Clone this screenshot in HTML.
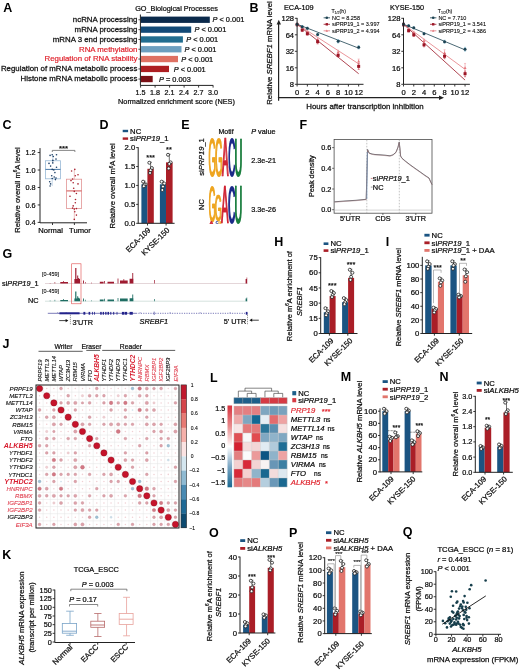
<!DOCTYPE html>
<html><head><meta charset="utf-8"><title>Figure</title>
<style>
html,body{margin:0;padding:0;background:#fff;}
body{width:520px;height:670px;overflow:hidden;}
svg{display:block;font-family:"Liberation Sans",Arial,sans-serif;}
</style></head>
<body>
<svg width="520" height="670" viewBox="0 0 520 670">
<rect x="0" y="0" width="520" height="670" fill="#fff"/>
<text x="3.29" y="11.60" font-size="12.5" fill="#000" font-weight="bold">A</text>
<text x="176.50" y="10.60" font-size="7.3" text-anchor="middle" stroke="#1c1c1c" stroke-width="0.234">GO_Biological Processes</text>
<rect x="140.60" y="16.60" width="69.20" height="6.30" fill="#0b2a4b"/>
<text x="137.40" y="22.05" font-size="7.85" text-anchor="end" stroke="#1c1c1c" stroke-width="0.251">ncRNA processing</text>
<line x1="138.40" y1="19.75" x2="140.40" y2="19.75" stroke="#222" stroke-width="0.8"/>
<text x="212.50" y="22.35" font-size="7.4" stroke="#1c1c1c" stroke-width="0.237"><tspan font-style="italic">P</tspan> &lt; 0.001</text>
<rect x="140.60" y="26.50" width="50.60" height="6.30" fill="#124a77"/>
<text x="137.40" y="31.95" font-size="7.85" text-anchor="end" stroke="#1c1c1c" stroke-width="0.251">mRNA processing</text>
<line x1="138.40" y1="29.65" x2="140.40" y2="29.65" stroke="#222" stroke-width="0.8"/>
<text x="194.45" y="32.25" font-size="7.4" stroke="#1c1c1c" stroke-width="0.237"><tspan font-style="italic">P</tspan> &lt; 0.001</text>
<rect x="140.60" y="36.30" width="42.30" height="6.30" fill="#216d8f"/>
<text x="137.40" y="41.75" font-size="7.85" text-anchor="end" stroke="#1c1c1c" stroke-width="0.251">mRNA 3 end processing</text>
<line x1="138.40" y1="39.45" x2="140.40" y2="39.45" stroke="#222" stroke-width="0.8"/>
<text x="186.25" y="42.05" font-size="7.4" stroke="#1c1c1c" stroke-width="0.237"><tspan font-style="italic">P</tspan> &lt; 0.001</text>
<rect x="140.60" y="46.10" width="40.90" height="6.30" fill="#6c9fbf"/>
<text x="137.40" y="51.55" font-size="7.85" text-anchor="end" fill="#e0242e" stroke="#e0242e" stroke-width="0.204">RNA methylation</text>
<line x1="138.40" y1="49.25" x2="140.40" y2="49.25" stroke="#222" stroke-width="0.8"/>
<text x="184.50" y="51.85" font-size="7.4" stroke="#1c1c1c" stroke-width="0.237"><tspan font-style="italic">P</tspan> &lt; 0.001</text>
<rect x="140.60" y="55.90" width="37.40" height="6.30" fill="#df7163"/>
<text x="137.40" y="61.35" font-size="7.85" text-anchor="end" fill="#e0242e" stroke="#e0242e" stroke-width="0.204">Regulation of RNA stability</text>
<line x1="138.40" y1="59.05" x2="140.40" y2="59.05" stroke="#222" stroke-width="0.8"/>
<text x="181.25" y="61.65" font-size="7.4" stroke="#1c1c1c" stroke-width="0.237"><tspan font-style="italic">P</tspan> &lt; 0.001</text>
<rect x="140.60" y="65.80" width="28.40" height="6.30" fill="#ad1e22"/>
<text x="137.40" y="71.25" font-size="7.85" text-anchor="end" stroke="#1c1c1c" stroke-width="0.251">Regulation of mRNA metabolic process</text>
<line x1="138.40" y1="68.95" x2="140.40" y2="68.95" stroke="#222" stroke-width="0.8"/>
<text x="173.75" y="71.55" font-size="7.4" stroke="#1c1c1c" stroke-width="0.237"><tspan font-style="italic">P</tspan> &lt; 0.001</text>
<rect x="140.60" y="75.90" width="12.10" height="6.30" fill="#7a1016"/>
<text x="137.40" y="81.35" font-size="7.85" text-anchor="end" stroke="#1c1c1c" stroke-width="0.251">Histone mRNA metabolic process</text>
<line x1="138.40" y1="79.05" x2="140.40" y2="79.05" stroke="#222" stroke-width="0.8"/>
<text x="158.95" y="81.65" font-size="7.4" stroke="#1c1c1c" stroke-width="0.237"><tspan font-style="italic">P</tspan> = 0.003</text>
<line x1="140.40" y1="14.50" x2="140.40" y2="85.40" stroke="#222" stroke-width="1.0"/>
<line x1="140.40" y1="85.40" x2="213.20" y2="85.40" stroke="#222" stroke-width="1.0"/>
<line x1="140.60" y1="85.40" x2="140.60" y2="87.60" stroke="#222" stroke-width="0.9"/>
<text x="140.60" y="95.00" font-size="7.2" text-anchor="middle" stroke="#1c1c1c" stroke-width="0.230">1.5</text>
<line x1="155.10" y1="85.40" x2="155.10" y2="87.60" stroke="#222" stroke-width="0.9"/>
<text x="155.10" y="95.00" font-size="7.2" text-anchor="middle" stroke="#1c1c1c" stroke-width="0.230">1.8</text>
<line x1="169.60" y1="85.40" x2="169.60" y2="87.60" stroke="#222" stroke-width="0.9"/>
<text x="169.60" y="95.00" font-size="7.2" text-anchor="middle" stroke="#1c1c1c" stroke-width="0.230">2.1</text>
<line x1="184.10" y1="85.40" x2="184.10" y2="87.60" stroke="#222" stroke-width="0.9"/>
<text x="184.10" y="95.00" font-size="7.2" text-anchor="middle" stroke="#1c1c1c" stroke-width="0.230">2.4</text>
<line x1="198.60" y1="85.40" x2="198.60" y2="87.60" stroke="#222" stroke-width="0.9"/>
<text x="198.60" y="95.00" font-size="7.2" text-anchor="middle" stroke="#1c1c1c" stroke-width="0.230">2.7</text>
<line x1="213.10" y1="85.40" x2="213.10" y2="87.60" stroke="#222" stroke-width="0.9"/>
<text x="213.10" y="95.00" font-size="7.2" text-anchor="middle" stroke="#1c1c1c" stroke-width="0.230">3.0</text>
<text x="176.50" y="104.00" font-size="7.3" text-anchor="middle" stroke="#1c1c1c" stroke-width="0.234">Normalized enrichment score (NES)</text>
<text x="249.46" y="11.80" font-size="12.5" fill="#000" font-weight="bold">B</text>
<text x="284.00" y="9.80" font-size="7.3" stroke="#1c1c1c" stroke-width="0.234">ECA-109</text>
<line x1="297.10" y1="24.18" x2="358.66" y2="63.82" stroke="#e47a80" stroke-width="0.8"/>
<line x1="297.10" y1="24.18" x2="358.66" y2="73.71" stroke="#9c1626" stroke-width="0.8"/>
<line x1="297.10" y1="24.18" x2="358.66" y2="48.15" stroke="#1d4252" stroke-width="0.8"/>
<line x1="297.10" y1="22.79" x2="297.10" y2="25.65" stroke="#eea0a8" stroke-width="0.7"/>
<line x1="296.10" y1="22.79" x2="298.10" y2="22.79" stroke="#eea0a8" stroke-width="0.6"/>
<line x1="296.10" y1="25.65" x2="298.10" y2="25.65" stroke="#eea0a8" stroke-width="0.6"/>
<path d="M295.60,25.38 L297.10,22.68 L298.60,25.38 Z" fill="#e47a80"/>
<line x1="302.23" y1="27.45" x2="302.23" y2="29.83" stroke="#eea0a8" stroke-width="0.7"/>
<line x1="301.23" y1="27.45" x2="303.23" y2="27.45" stroke="#eea0a8" stroke-width="0.6"/>
<line x1="301.23" y1="29.83" x2="303.23" y2="29.83" stroke="#eea0a8" stroke-width="0.6"/>
<path d="M300.73,29.81 L302.23,27.11 L303.73,29.81 Z" fill="#e47a80"/>
<line x1="307.36" y1="30.61" x2="307.36" y2="33.47" stroke="#eea0a8" stroke-width="0.7"/>
<line x1="306.36" y1="30.61" x2="308.36" y2="30.61" stroke="#eea0a8" stroke-width="0.6"/>
<line x1="306.36" y1="33.47" x2="308.36" y2="33.47" stroke="#eea0a8" stroke-width="0.6"/>
<path d="M305.86,33.20 L307.36,30.50 L308.86,33.20 Z" fill="#e47a80"/>
<line x1="317.62" y1="37.91" x2="317.62" y2="41.73" stroke="#eea0a8" stroke-width="0.7"/>
<line x1="316.62" y1="37.91" x2="318.62" y2="37.91" stroke="#eea0a8" stroke-width="0.6"/>
<line x1="316.62" y1="41.73" x2="318.62" y2="41.73" stroke="#eea0a8" stroke-width="0.6"/>
<path d="M316.12,40.94 L317.62,38.24 L319.12,40.94 Z" fill="#e47a80"/>
<line x1="338.14" y1="50.22" x2="338.14" y2="54.04" stroke="#eea0a8" stroke-width="0.7"/>
<line x1="337.14" y1="50.22" x2="339.14" y2="50.22" stroke="#eea0a8" stroke-width="0.6"/>
<line x1="337.14" y1="54.04" x2="339.14" y2="54.04" stroke="#eea0a8" stroke-width="0.6"/>
<path d="M336.64,53.26 L338.14,50.56 L339.64,53.26 Z" fill="#e47a80"/>
<line x1="358.66" y1="59.06" x2="358.66" y2="63.83" stroke="#eea0a8" stroke-width="0.7"/>
<line x1="357.66" y1="59.06" x2="359.66" y2="59.06" stroke="#eea0a8" stroke-width="0.6"/>
<line x1="357.66" y1="63.83" x2="359.66" y2="63.83" stroke="#eea0a8" stroke-width="0.6"/>
<path d="M357.16,62.53 L358.66,59.83 L360.16,62.53 Z" fill="#e47a80"/>
<line x1="297.10" y1="23.27" x2="297.10" y2="26.13" stroke="#c84858" stroke-width="0.7"/>
<line x1="296.10" y1="23.27" x2="298.10" y2="23.27" stroke="#c84858" stroke-width="0.6"/>
<line x1="296.10" y1="26.13" x2="298.10" y2="26.13" stroke="#c84858" stroke-width="0.6"/>
<rect x="295.60" y="23.16" width="3.00" height="3.00" fill="#9c1626"/>
<line x1="302.23" y1="28.70" x2="302.23" y2="31.56" stroke="#c84858" stroke-width="0.7"/>
<line x1="301.23" y1="28.70" x2="303.23" y2="28.70" stroke="#c84858" stroke-width="0.6"/>
<line x1="301.23" y1="31.56" x2="303.23" y2="31.56" stroke="#c84858" stroke-width="0.6"/>
<rect x="300.73" y="28.59" width="3.00" height="3.00" fill="#9c1626"/>
<line x1="307.36" y1="32.32" x2="307.36" y2="35.18" stroke="#c84858" stroke-width="0.7"/>
<line x1="306.36" y1="32.32" x2="308.36" y2="32.32" stroke="#c84858" stroke-width="0.6"/>
<line x1="306.36" y1="35.18" x2="308.36" y2="35.18" stroke="#c84858" stroke-width="0.6"/>
<rect x="305.86" y="32.21" width="3.00" height="3.00" fill="#9c1626"/>
<line x1="317.62" y1="39.60" x2="317.62" y2="43.89" stroke="#c84858" stroke-width="0.7"/>
<line x1="316.62" y1="39.60" x2="318.62" y2="39.60" stroke="#c84858" stroke-width="0.6"/>
<line x1="316.62" y1="43.89" x2="318.62" y2="43.89" stroke="#c84858" stroke-width="0.6"/>
<rect x="316.12" y="40.15" width="3.00" height="3.00" fill="#9c1626"/>
<line x1="338.14" y1="53.96" x2="338.14" y2="56.82" stroke="#c84858" stroke-width="0.7"/>
<line x1="337.14" y1="53.96" x2="339.14" y2="53.96" stroke="#c84858" stroke-width="0.6"/>
<line x1="337.14" y1="56.82" x2="339.14" y2="56.82" stroke="#c84858" stroke-width="0.6"/>
<rect x="336.64" y="53.84" width="3.00" height="3.00" fill="#9c1626"/>
<line x1="358.66" y1="63.66" x2="358.66" y2="69.40" stroke="#c84858" stroke-width="0.7"/>
<line x1="357.66" y1="63.66" x2="359.66" y2="63.66" stroke="#c84858" stroke-width="0.6"/>
<line x1="357.66" y1="69.40" x2="359.66" y2="69.40" stroke="#c84858" stroke-width="0.6"/>
<rect x="357.16" y="64.86" width="3.00" height="3.00" fill="#9c1626"/>
<line x1="297.10" y1="23.01" x2="297.10" y2="25.40" stroke="#7ab8d0" stroke-width="0.7"/>
<line x1="296.10" y1="23.01" x2="298.10" y2="23.01" stroke="#7ab8d0" stroke-width="0.6"/>
<line x1="296.10" y1="25.40" x2="298.10" y2="25.40" stroke="#7ab8d0" stroke-width="0.6"/>
<circle cx="297.10" cy="24.18" r="1.50" fill="#1d4252"/>
<line x1="302.23" y1="25.52" x2="302.23" y2="27.91" stroke="#7ab8d0" stroke-width="0.7"/>
<line x1="301.23" y1="25.52" x2="303.23" y2="25.52" stroke="#7ab8d0" stroke-width="0.6"/>
<line x1="301.23" y1="27.91" x2="303.23" y2="27.91" stroke="#7ab8d0" stroke-width="0.6"/>
<circle cx="302.23" cy="26.68" r="1.50" fill="#1d4252"/>
<line x1="307.36" y1="27.17" x2="307.36" y2="29.55" stroke="#7ab8d0" stroke-width="0.7"/>
<line x1="306.36" y1="27.17" x2="308.36" y2="27.17" stroke="#7ab8d0" stroke-width="0.6"/>
<line x1="306.36" y1="29.55" x2="308.36" y2="29.55" stroke="#7ab8d0" stroke-width="0.6"/>
<circle cx="307.36" cy="28.33" r="1.50" fill="#1d4252"/>
<line x1="317.62" y1="33.45" x2="317.62" y2="35.84" stroke="#7ab8d0" stroke-width="0.7"/>
<line x1="316.62" y1="33.45" x2="318.62" y2="33.45" stroke="#7ab8d0" stroke-width="0.6"/>
<line x1="316.62" y1="35.84" x2="318.62" y2="35.84" stroke="#7ab8d0" stroke-width="0.6"/>
<circle cx="317.62" cy="34.61" r="1.50" fill="#1d4252"/>
<line x1="338.14" y1="39.64" x2="338.14" y2="42.98" stroke="#7ab8d0" stroke-width="0.7"/>
<line x1="337.14" y1="39.64" x2="339.14" y2="39.64" stroke="#7ab8d0" stroke-width="0.6"/>
<line x1="337.14" y1="42.98" x2="339.14" y2="42.98" stroke="#7ab8d0" stroke-width="0.6"/>
<circle cx="338.14" cy="41.25" r="1.50" fill="#1d4252"/>
<line x1="358.66" y1="45.60" x2="358.66" y2="48.94" stroke="#7ab8d0" stroke-width="0.7"/>
<line x1="357.66" y1="45.60" x2="359.66" y2="45.60" stroke="#7ab8d0" stroke-width="0.6"/>
<line x1="357.66" y1="48.94" x2="359.66" y2="48.94" stroke="#7ab8d0" stroke-width="0.6"/>
<circle cx="358.66" cy="47.21" r="1.50" fill="#1d4252"/>
<line x1="297.10" y1="84.30" x2="297.10" y2="17.90" stroke="#222" stroke-width="1.0"/>
<line x1="294.90" y1="18.30" x2="297.10" y2="18.30" stroke="#222" stroke-width="0.9"/>
<text x="294.10" y="21.00" font-size="7.6" text-anchor="end" stroke="#1c1c1c" stroke-width="0.243">128</text>
<line x1="294.90" y1="34.80" x2="297.10" y2="34.80" stroke="#222" stroke-width="0.9"/>
<text x="294.10" y="37.50" font-size="7.6" text-anchor="end" stroke="#1c1c1c" stroke-width="0.243">64</text>
<line x1="294.90" y1="51.30" x2="297.10" y2="51.30" stroke="#222" stroke-width="0.9"/>
<text x="294.10" y="54.00" font-size="7.6" text-anchor="end" stroke="#1c1c1c" stroke-width="0.243">32</text>
<line x1="294.90" y1="67.80" x2="297.10" y2="67.80" stroke="#222" stroke-width="0.9"/>
<text x="294.10" y="70.50" font-size="7.6" text-anchor="end" stroke="#1c1c1c" stroke-width="0.243">16</text>
<line x1="294.90" y1="84.30" x2="297.10" y2="84.30" stroke="#222" stroke-width="0.9"/>
<text x="294.10" y="87.00" font-size="7.6" text-anchor="end" stroke="#1c1c1c" stroke-width="0.243">8</text>
<line x1="297.10" y1="84.30" x2="363.50" y2="84.30" stroke="#222" stroke-width="1.0"/>
<line x1="297.10" y1="84.30" x2="297.10" y2="86.50" stroke="#222" stroke-width="0.9"/>
<text x="297.10" y="94.70" font-size="7.6" text-anchor="middle" stroke="#1c1c1c" stroke-width="0.243">0</text>
<line x1="307.36" y1="84.30" x2="307.36" y2="86.50" stroke="#222" stroke-width="0.9"/>
<text x="307.36" y="94.70" font-size="7.6" text-anchor="middle" stroke="#1c1c1c" stroke-width="0.243">2</text>
<line x1="317.62" y1="84.30" x2="317.62" y2="86.50" stroke="#222" stroke-width="0.9"/>
<text x="317.62" y="94.70" font-size="7.6" text-anchor="middle" stroke="#1c1c1c" stroke-width="0.243">4</text>
<line x1="327.88" y1="84.30" x2="327.88" y2="86.50" stroke="#222" stroke-width="0.9"/>
<text x="327.88" y="94.70" font-size="7.6" text-anchor="middle" stroke="#1c1c1c" stroke-width="0.243">6</text>
<line x1="338.14" y1="84.30" x2="338.14" y2="86.50" stroke="#222" stroke-width="0.9"/>
<text x="338.14" y="94.70" font-size="7.6" text-anchor="middle" stroke="#1c1c1c" stroke-width="0.243">8</text>
<line x1="348.40" y1="84.30" x2="348.40" y2="86.50" stroke="#222" stroke-width="0.9"/>
<text x="348.40" y="94.70" font-size="7.6" text-anchor="middle" stroke="#1c1c1c" stroke-width="0.243">10</text>
<line x1="358.66" y1="84.30" x2="358.66" y2="86.50" stroke="#222" stroke-width="0.9"/>
<text x="358.66" y="94.70" font-size="7.6" text-anchor="middle" stroke="#1c1c1c" stroke-width="0.243">12</text>
<text x="331.40" y="12.60" font-size="5.2" stroke="#1c1c1c" stroke-width="0.100">T<tspan font-size="3.6" dy="1">1/2</tspan><tspan dy="-1">(h)</tspan></text>
<line x1="323.60" y1="17.80" x2="330.00" y2="17.80" stroke="#1d4252" stroke-width="0.8"/>
<circle cx="326.80" cy="17.80" r="1.30" fill="#1d4252"/>
<text x="332.00" y="19.80" font-size="5.5" stroke="#1c1c1c" stroke-width="0.100">NC = 8.258</text>
<line x1="323.60" y1="24.30" x2="330.00" y2="24.30" stroke="#9c1626" stroke-width="0.8"/>
<rect x="325.60" y="23.10" width="2.40" height="2.40" fill="#9c1626"/>
<text x="332.00" y="26.30" font-size="5.5" stroke="#1c1c1c" stroke-width="0.100">siPRP19_1 = 3.997</text>
<line x1="323.60" y1="30.80" x2="330.00" y2="30.80" stroke="#e47a80" stroke-width="0.8"/>
<path d="M325.60,31.80 L326.80,29.60 L328.00,31.80 Z" fill="#e47a80"/>
<text x="332.00" y="32.80" font-size="5.5" stroke="#1c1c1c" stroke-width="0.100">siPRP19_2 = 4.994</text>
<text x="390.00" y="9.80" font-size="7.3" stroke="#1c1c1c" stroke-width="0.234">KYSE-150</text>
<line x1="403.50" y1="24.18" x2="465.06" y2="69.32" stroke="#e47a80" stroke-width="0.8"/>
<line x1="403.50" y1="24.18" x2="465.06" y2="80.09" stroke="#9c1626" stroke-width="0.8"/>
<line x1="403.50" y1="24.18" x2="465.06" y2="49.86" stroke="#1d4252" stroke-width="0.8"/>
<line x1="403.50" y1="22.79" x2="403.50" y2="25.65" stroke="#eea0a8" stroke-width="0.7"/>
<line x1="402.50" y1="22.79" x2="404.50" y2="22.79" stroke="#eea0a8" stroke-width="0.6"/>
<line x1="402.50" y1="25.65" x2="404.50" y2="25.65" stroke="#eea0a8" stroke-width="0.6"/>
<path d="M402.00,25.38 L403.50,22.68 L405.00,25.38 Z" fill="#e47a80"/>
<line x1="408.63" y1="27.74" x2="408.63" y2="30.12" stroke="#eea0a8" stroke-width="0.7"/>
<line x1="407.63" y1="27.74" x2="409.63" y2="27.74" stroke="#eea0a8" stroke-width="0.6"/>
<line x1="407.63" y1="30.12" x2="409.63" y2="30.12" stroke="#eea0a8" stroke-width="0.6"/>
<path d="M407.13,30.10 L408.63,27.40 L410.13,30.10 Z" fill="#e47a80"/>
<line x1="413.76" y1="31.28" x2="413.76" y2="34.14" stroke="#eea0a8" stroke-width="0.7"/>
<line x1="412.76" y1="31.28" x2="414.76" y2="31.28" stroke="#eea0a8" stroke-width="0.6"/>
<line x1="412.76" y1="34.14" x2="414.76" y2="34.14" stroke="#eea0a8" stroke-width="0.6"/>
<path d="M412.26,33.87 L413.76,31.17 L415.26,33.87 Z" fill="#e47a80"/>
<line x1="424.02" y1="39.07" x2="424.02" y2="42.40" stroke="#eea0a8" stroke-width="0.7"/>
<line x1="423.02" y1="39.07" x2="425.02" y2="39.07" stroke="#eea0a8" stroke-width="0.6"/>
<line x1="423.02" y1="42.40" x2="425.02" y2="42.40" stroke="#eea0a8" stroke-width="0.6"/>
<path d="M422.52,41.88 L424.02,39.18 L425.52,41.88 Z" fill="#e47a80"/>
<line x1="444.54" y1="49.72" x2="444.54" y2="56.43" stroke="#eea0a8" stroke-width="0.7"/>
<line x1="443.54" y1="49.72" x2="445.54" y2="49.72" stroke="#eea0a8" stroke-width="0.6"/>
<line x1="443.54" y1="56.43" x2="445.54" y2="56.43" stroke="#eea0a8" stroke-width="0.6"/>
<path d="M443.04,54.04 L444.54,51.34 L446.04,54.04 Z" fill="#e47a80"/>
<line x1="465.06" y1="63.46" x2="465.06" y2="73.11" stroke="#eea0a8" stroke-width="0.7"/>
<line x1="464.06" y1="63.46" x2="466.06" y2="63.46" stroke="#eea0a8" stroke-width="0.6"/>
<line x1="464.06" y1="73.11" x2="466.06" y2="73.11" stroke="#eea0a8" stroke-width="0.6"/>
<path d="M463.56,69.00 L465.06,66.30 L466.56,69.00 Z" fill="#e47a80"/>
<line x1="403.50" y1="23.05" x2="403.50" y2="26.38" stroke="#c84858" stroke-width="0.7"/>
<line x1="402.50" y1="23.05" x2="404.50" y2="23.05" stroke="#c84858" stroke-width="0.6"/>
<line x1="402.50" y1="26.38" x2="404.50" y2="26.38" stroke="#c84858" stroke-width="0.6"/>
<rect x="402.00" y="23.16" width="3.00" height="3.00" fill="#9c1626"/>
<line x1="408.63" y1="29.55" x2="408.63" y2="31.93" stroke="#c84858" stroke-width="0.7"/>
<line x1="407.63" y1="29.55" x2="409.63" y2="29.55" stroke="#c84858" stroke-width="0.6"/>
<line x1="407.63" y1="31.93" x2="409.63" y2="31.93" stroke="#c84858" stroke-width="0.6"/>
<rect x="407.13" y="29.21" width="3.00" height="3.00" fill="#9c1626"/>
<line x1="413.76" y1="33.19" x2="413.76" y2="36.53" stroke="#c84858" stroke-width="0.7"/>
<line x1="412.76" y1="33.19" x2="414.76" y2="33.19" stroke="#c84858" stroke-width="0.6"/>
<line x1="412.76" y1="36.53" x2="414.76" y2="36.53" stroke="#c84858" stroke-width="0.6"/>
<rect x="412.26" y="33.30" width="3.00" height="3.00" fill="#9c1626"/>
<line x1="424.02" y1="42.99" x2="424.02" y2="46.81" stroke="#c84858" stroke-width="0.7"/>
<line x1="423.02" y1="42.99" x2="425.02" y2="42.99" stroke="#c84858" stroke-width="0.6"/>
<line x1="423.02" y1="46.81" x2="425.02" y2="46.81" stroke="#c84858" stroke-width="0.6"/>
<rect x="422.52" y="43.33" width="3.00" height="3.00" fill="#9c1626"/>
<line x1="444.54" y1="53.97" x2="444.54" y2="58.75" stroke="#c84858" stroke-width="0.7"/>
<line x1="443.54" y1="53.97" x2="445.54" y2="53.97" stroke="#c84858" stroke-width="0.6"/>
<line x1="443.54" y1="58.75" x2="445.54" y2="58.75" stroke="#c84858" stroke-width="0.6"/>
<rect x="443.04" y="54.74" width="3.00" height="3.00" fill="#9c1626"/>
<line x1="465.06" y1="70.98" x2="465.06" y2="76.72" stroke="#c84858" stroke-width="0.7"/>
<line x1="464.06" y1="70.98" x2="466.06" y2="70.98" stroke="#c84858" stroke-width="0.6"/>
<line x1="464.06" y1="76.72" x2="466.06" y2="76.72" stroke="#c84858" stroke-width="0.6"/>
<rect x="463.56" y="72.18" width="3.00" height="3.00" fill="#9c1626"/>
<line x1="403.50" y1="22.57" x2="403.50" y2="25.90" stroke="#7ab8d0" stroke-width="0.7"/>
<line x1="402.50" y1="22.57" x2="404.50" y2="22.57" stroke="#7ab8d0" stroke-width="0.6"/>
<line x1="402.50" y1="25.90" x2="404.50" y2="25.90" stroke="#7ab8d0" stroke-width="0.6"/>
<circle cx="403.50" cy="24.18" r="1.50" fill="#1d4252"/>
<line x1="408.63" y1="24.72" x2="408.63" y2="26.62" stroke="#7ab8d0" stroke-width="0.7"/>
<line x1="407.63" y1="24.72" x2="409.63" y2="24.72" stroke="#7ab8d0" stroke-width="0.6"/>
<line x1="407.63" y1="26.62" x2="409.63" y2="26.62" stroke="#7ab8d0" stroke-width="0.6"/>
<circle cx="408.63" cy="25.65" r="1.50" fill="#1d4252"/>
<line x1="413.76" y1="26.83" x2="413.76" y2="28.74" stroke="#7ab8d0" stroke-width="0.7"/>
<line x1="412.76" y1="26.83" x2="414.76" y2="26.83" stroke="#7ab8d0" stroke-width="0.6"/>
<line x1="412.76" y1="28.74" x2="414.76" y2="28.74" stroke="#7ab8d0" stroke-width="0.6"/>
<circle cx="413.76" cy="27.77" r="1.50" fill="#1d4252"/>
<line x1="424.02" y1="32.78" x2="424.02" y2="34.68" stroke="#7ab8d0" stroke-width="0.7"/>
<line x1="423.02" y1="32.78" x2="425.02" y2="32.78" stroke="#7ab8d0" stroke-width="0.6"/>
<line x1="423.02" y1="34.68" x2="425.02" y2="34.68" stroke="#7ab8d0" stroke-width="0.6"/>
<circle cx="424.02" cy="33.71" r="1.50" fill="#1d4252"/>
<line x1="444.54" y1="40.26" x2="444.54" y2="43.12" stroke="#7ab8d0" stroke-width="0.7"/>
<line x1="443.54" y1="40.26" x2="445.54" y2="40.26" stroke="#7ab8d0" stroke-width="0.6"/>
<line x1="443.54" y1="43.12" x2="445.54" y2="43.12" stroke="#7ab8d0" stroke-width="0.6"/>
<circle cx="444.54" cy="41.65" r="1.50" fill="#1d4252"/>
<line x1="465.06" y1="47.33" x2="465.06" y2="51.15" stroke="#7ab8d0" stroke-width="0.7"/>
<line x1="464.06" y1="47.33" x2="466.06" y2="47.33" stroke="#7ab8d0" stroke-width="0.6"/>
<line x1="464.06" y1="51.15" x2="466.06" y2="51.15" stroke="#7ab8d0" stroke-width="0.6"/>
<circle cx="465.06" cy="49.17" r="1.50" fill="#1d4252"/>
<line x1="403.50" y1="84.30" x2="403.50" y2="17.90" stroke="#222" stroke-width="1.0"/>
<line x1="401.30" y1="18.30" x2="403.50" y2="18.30" stroke="#222" stroke-width="0.9"/>
<text x="400.50" y="21.00" font-size="7.6" text-anchor="end" stroke="#1c1c1c" stroke-width="0.243">128</text>
<line x1="401.30" y1="34.80" x2="403.50" y2="34.80" stroke="#222" stroke-width="0.9"/>
<text x="400.50" y="37.50" font-size="7.6" text-anchor="end" stroke="#1c1c1c" stroke-width="0.243">64</text>
<line x1="401.30" y1="51.30" x2="403.50" y2="51.30" stroke="#222" stroke-width="0.9"/>
<text x="400.50" y="54.00" font-size="7.6" text-anchor="end" stroke="#1c1c1c" stroke-width="0.243">32</text>
<line x1="401.30" y1="67.80" x2="403.50" y2="67.80" stroke="#222" stroke-width="0.9"/>
<text x="400.50" y="70.50" font-size="7.6" text-anchor="end" stroke="#1c1c1c" stroke-width="0.243">16</text>
<line x1="401.30" y1="84.30" x2="403.50" y2="84.30" stroke="#222" stroke-width="0.9"/>
<text x="400.50" y="87.00" font-size="7.6" text-anchor="end" stroke="#1c1c1c" stroke-width="0.243">8</text>
<line x1="403.50" y1="84.30" x2="469.90" y2="84.30" stroke="#222" stroke-width="1.0"/>
<line x1="403.50" y1="84.30" x2="403.50" y2="86.50" stroke="#222" stroke-width="0.9"/>
<text x="403.50" y="94.70" font-size="7.6" text-anchor="middle" stroke="#1c1c1c" stroke-width="0.243">0</text>
<line x1="413.76" y1="84.30" x2="413.76" y2="86.50" stroke="#222" stroke-width="0.9"/>
<text x="413.76" y="94.70" font-size="7.6" text-anchor="middle" stroke="#1c1c1c" stroke-width="0.243">2</text>
<line x1="424.02" y1="84.30" x2="424.02" y2="86.50" stroke="#222" stroke-width="0.9"/>
<text x="424.02" y="94.70" font-size="7.6" text-anchor="middle" stroke="#1c1c1c" stroke-width="0.243">4</text>
<line x1="434.28" y1="84.30" x2="434.28" y2="86.50" stroke="#222" stroke-width="0.9"/>
<text x="434.28" y="94.70" font-size="7.6" text-anchor="middle" stroke="#1c1c1c" stroke-width="0.243">6</text>
<line x1="444.54" y1="84.30" x2="444.54" y2="86.50" stroke="#222" stroke-width="0.9"/>
<text x="444.54" y="94.70" font-size="7.6" text-anchor="middle" stroke="#1c1c1c" stroke-width="0.243">8</text>
<line x1="454.80" y1="84.30" x2="454.80" y2="86.50" stroke="#222" stroke-width="0.9"/>
<text x="454.80" y="94.70" font-size="7.6" text-anchor="middle" stroke="#1c1c1c" stroke-width="0.243">10</text>
<line x1="465.06" y1="84.30" x2="465.06" y2="86.50" stroke="#222" stroke-width="0.9"/>
<text x="465.06" y="94.70" font-size="7.6" text-anchor="middle" stroke="#1c1c1c" stroke-width="0.243">12</text>
<text x="437.80" y="12.60" font-size="5.2" stroke="#1c1c1c" stroke-width="0.100">T<tspan font-size="3.6" dy="1">1/2</tspan><tspan dy="-1">(h)</tspan></text>
<line x1="430.00" y1="17.80" x2="436.40" y2="17.80" stroke="#1d4252" stroke-width="0.8"/>
<circle cx="433.20" cy="17.80" r="1.30" fill="#1d4252"/>
<text x="438.40" y="19.80" font-size="5.5" stroke="#1c1c1c" stroke-width="0.100">NC = 7.710</text>
<line x1="430.00" y1="24.30" x2="436.40" y2="24.30" stroke="#9c1626" stroke-width="0.8"/>
<rect x="432.00" y="23.10" width="2.40" height="2.40" fill="#9c1626"/>
<text x="438.40" y="26.30" font-size="5.5" stroke="#1c1c1c" stroke-width="0.100">siPRP19_1 = 3.541</text>
<line x1="430.00" y1="30.80" x2="436.40" y2="30.80" stroke="#e47a80" stroke-width="0.8"/>
<path d="M432.00,31.80 L433.20,29.60 L434.40,31.80 Z" fill="#e47a80"/>
<text x="438.40" y="32.80" font-size="5.5" stroke="#1c1c1c" stroke-width="0.100">siPRP19_2 = 4.386</text>
<line x1="278.60" y1="100.80" x2="278.60" y2="23.50" stroke="#222" stroke-width="1.2"/>
<path d="M276.6,24.4 L278.8,19.8 L281.0,24.4 Z" fill="#222"/>
<line x1="277.90" y1="97.70" x2="439.50" y2="97.70" stroke="#222" stroke-width="1.2"/>
<path d="M439.0,95.4 L444.0,97.7 L439.0,100.0 Z" fill="#222"/>
<text x="271.60" y="53.00" font-size="7.8" text-anchor="middle" stroke="#1c1c1c" stroke-width="0.250" transform="rotate(-90 271.60 53.00)">Relative <tspan font-style="italic">SREBF1</tspan> mRNA level</text>
<text x="365.00" y="109.00" font-size="7.9" text-anchor="middle" stroke="#1c1c1c" stroke-width="0.253">Hours after transcription inhibition</text>
<text x="2.49" y="129.18" font-size="12.5" fill="#000" font-weight="bold">C</text>
<line x1="40.00" y1="222.90" x2="40.00" y2="148.10" stroke="#222" stroke-width="1.0"/>
<line x1="37.70" y1="222.40" x2="40.00" y2="222.40" stroke="#222" stroke-width="0.9"/>
<text x="35.60" y="225.00" font-size="7.3" text-anchor="end" stroke="#1c1c1c" stroke-width="0.234">0.4</text>
<line x1="37.70" y1="204.94" x2="40.00" y2="204.94" stroke="#222" stroke-width="0.9"/>
<text x="35.60" y="207.54" font-size="7.3" text-anchor="end" stroke="#1c1c1c" stroke-width="0.234">0.6</text>
<line x1="37.70" y1="187.48" x2="40.00" y2="187.48" stroke="#222" stroke-width="0.9"/>
<text x="35.60" y="190.08" font-size="7.3" text-anchor="end" stroke="#1c1c1c" stroke-width="0.234">0.8</text>
<line x1="37.70" y1="170.02" x2="40.00" y2="170.02" stroke="#222" stroke-width="0.9"/>
<text x="35.60" y="172.62" font-size="7.3" text-anchor="end" stroke="#1c1c1c" stroke-width="0.234">1.0</text>
<line x1="37.70" y1="152.56" x2="40.00" y2="152.56" stroke="#222" stroke-width="0.9"/>
<text x="35.60" y="155.16" font-size="7.3" text-anchor="end" stroke="#1c1c1c" stroke-width="0.234">1.2</text>
<line x1="40.00" y1="222.80" x2="87.00" y2="222.80" stroke="#222" stroke-width="1.0"/>
<line x1="52.50" y1="222.80" x2="52.50" y2="225.00" stroke="#222" stroke-width="0.9"/>
<line x1="74.40" y1="222.80" x2="74.40" y2="225.00" stroke="#222" stroke-width="0.9"/>
<text x="50.60" y="233.10" font-size="7.6" text-anchor="middle" stroke="#1c1c1c" stroke-width="0.243">Normal</text>
<text x="79.90" y="233.10" font-size="7.6" text-anchor="middle" stroke="#1c1c1c" stroke-width="0.243">Tumor</text>
<text x="19.60" y="190.00" font-size="7.6" text-anchor="middle" stroke="#1c1c1c" stroke-width="0.243" transform="rotate(-90 19.60 190.00)">Relative overall m<tspan font-size="4.6" dy="-2.6">6</tspan><tspan dy="2.6">A level</tspan></text>
<line x1="52.80" y1="160.75" x2="52.80" y2="155.00" stroke="#9dbcd8" stroke-width="0.6"/>
<line x1="52.20" y1="178.80" x2="52.20" y2="186.00" stroke="#9dbcd8" stroke-width="0.6"/>
<line x1="74.30" y1="179.20" x2="74.30" y2="169.90" stroke="#e09a9a" stroke-width="0.6"/>
<line x1="74.30" y1="208.60" x2="74.30" y2="219.90" stroke="#e09a9a" stroke-width="0.6"/>
<rect x="45.40" y="160.75" width="15.10" height="18.05" fill="none" stroke="#98b9d6" stroke-width="0.8"/>
<line x1="45.40" y1="169.40" x2="60.50" y2="169.40" stroke="#4a7aa8" stroke-width="1.0"/>
<rect x="66.50" y="179.20" width="15.10" height="29.40" fill="none" stroke="#e29494" stroke-width="0.8"/>
<line x1="66.50" y1="190.90" x2="81.60" y2="190.90" stroke="#d46060" stroke-width="1.1"/>
<circle cx="50.10" cy="155.40" r="0.80" fill="#1d3f66"/>
<circle cx="52.20" cy="154.80" r="0.80" fill="#1d3f66"/>
<circle cx="53.30" cy="156.50" r="0.80" fill="#1d3f66"/>
<circle cx="56.50" cy="154.80" r="0.80" fill="#1d3f66"/>
<circle cx="56.00" cy="159.10" r="0.80" fill="#1d3f66"/>
<circle cx="52.80" cy="160.20" r="0.80" fill="#1d3f66"/>
<circle cx="49.00" cy="163.40" r="0.80" fill="#1d3f66"/>
<circle cx="52.80" cy="162.90" r="0.80" fill="#1d3f66"/>
<circle cx="50.60" cy="166.10" r="0.80" fill="#1d3f66"/>
<circle cx="56.50" cy="167.20" r="0.80" fill="#1d3f66"/>
<circle cx="52.20" cy="169.40" r="0.80" fill="#1d3f66"/>
<circle cx="53.80" cy="169.90" r="0.80" fill="#1d3f66"/>
<circle cx="54.90" cy="172.60" r="0.80" fill="#1d3f66"/>
<circle cx="51.70" cy="175.80" r="0.80" fill="#1d3f66"/>
<circle cx="56.00" cy="178.00" r="0.80" fill="#1d3f66"/>
<circle cx="55.40" cy="179.60" r="0.80" fill="#1d3f66"/>
<circle cx="52.20" cy="178.50" r="0.80" fill="#1d3f66"/>
<circle cx="49.70" cy="181.70" r="0.80" fill="#1d3f66"/>
<circle cx="50.60" cy="183.90" r="0.80" fill="#1d3f66"/>
<circle cx="50.10" cy="186.00" r="0.80" fill="#1d3f66"/>
<circle cx="52.80" cy="160.80" r="0.80" fill="#1d3f66"/>
<circle cx="54.20" cy="177.00" r="0.80" fill="#1d3f66"/>
<circle cx="71.60" cy="171.00" r="0.80" fill="#a8202e"/>
<circle cx="74.80" cy="169.40" r="0.80" fill="#a8202e"/>
<circle cx="75.30" cy="175.80" r="0.80" fill="#a8202e"/>
<circle cx="78.00" cy="174.70" r="0.80" fill="#a8202e"/>
<circle cx="72.60" cy="179.00" r="0.80" fill="#a8202e"/>
<circle cx="71.00" cy="180.60" r="0.80" fill="#a8202e"/>
<circle cx="73.20" cy="182.80" r="0.80" fill="#a8202e"/>
<circle cx="78.00" cy="183.90" r="0.80" fill="#a8202e"/>
<circle cx="73.70" cy="188.20" r="0.80" fill="#a8202e"/>
<circle cx="74.30" cy="191.40" r="0.80" fill="#a8202e"/>
<circle cx="70.00" cy="196.20" r="0.80" fill="#a8202e"/>
<circle cx="76.40" cy="193.50" r="0.80" fill="#a8202e"/>
<circle cx="75.30" cy="202.70" r="0.80" fill="#a8202e"/>
<circle cx="72.60" cy="208.10" r="0.80" fill="#a8202e"/>
<circle cx="74.30" cy="209.10" r="0.80" fill="#a8202e"/>
<circle cx="76.40" cy="208.60" r="0.80" fill="#a8202e"/>
<circle cx="74.80" cy="211.80" r="0.80" fill="#a8202e"/>
<circle cx="76.40" cy="215.10" r="0.80" fill="#a8202e"/>
<circle cx="74.30" cy="219.40" r="0.80" fill="#a8202e"/>
<circle cx="73.20" cy="205.90" r="0.80" fill="#a8202e"/>
<circle cx="75.50" cy="199.50" r="0.80" fill="#a8202e"/>
<line x1="52.30" y1="150.40" x2="74.90" y2="150.40" stroke="#555" stroke-width="0.7"/>
<line x1="52.30" y1="150.40" x2="52.30" y2="152.00" stroke="#555" stroke-width="0.7"/>
<line x1="74.90" y1="150.40" x2="74.90" y2="152.00" stroke="#555" stroke-width="0.7"/>
<text x="63.60" y="151.00" font-size="7.819999999999999" text-anchor="middle" stroke="#1c1c1c" stroke-width="0.250">***</text>
<text x="99.46" y="128.90" font-size="12.5" fill="#000" font-weight="bold">D</text>
<rect x="122.70" y="129.80" width="5.40" height="2.40" fill="#1b5482"/>
<text x="130.10" y="133.77" font-size="7.7" stroke="#1c1c1c" stroke-width="0.246">NC</text>
<rect x="122.70" y="137.40" width="5.40" height="2.40" fill="#aa1e27"/>
<text x="130.10" y="141.37" font-size="7.7" stroke="#1c1c1c" stroke-width="0.246">si<tspan font-style="italic">PRP19</tspan>_1</text>
<rect x="141.40" y="184.31" width="6.00" height="38.99" fill="#1b5482"/>
<rect x="147.40" y="168.80" width="6.40" height="54.50" fill="#aa1e27"/>
<rect x="159.90" y="184.31" width="6.10" height="38.99" fill="#1b5482"/>
<rect x="166.00" y="162.36" width="6.60" height="60.94" fill="#aa1e27"/>
<line x1="144.40" y1="184.31" x2="144.40" y2="181.16" stroke="#111" stroke-width="0.6"/>
<line x1="143.20" y1="181.16" x2="145.60" y2="181.16" stroke="#111" stroke-width="0.6"/>
<circle cx="143.10" cy="181.66" r="1.50" fill="#fff" stroke="#151515" stroke-width="0.75"/>
<circle cx="145.70" cy="184.31" r="1.50" fill="#fff" stroke="#151515" stroke-width="0.75"/>
<circle cx="144.40" cy="184.69" r="1.50" fill="#fff" stroke="#151515" stroke-width="0.75"/>
<circle cx="143.80" cy="186.21" r="1.50" fill="#fff" stroke="#151515" stroke-width="0.75"/>
<line x1="150.60" y1="168.80" x2="150.60" y2="162.24" stroke="#111" stroke-width="0.6"/>
<line x1="149.40" y1="162.24" x2="151.80" y2="162.24" stroke="#111" stroke-width="0.6"/>
<circle cx="149.30" cy="162.74" r="1.50" fill="#fff" stroke="#151515" stroke-width="0.75"/>
<circle cx="151.90" cy="168.04" r="1.50" fill="#fff" stroke="#151515" stroke-width="0.75"/>
<circle cx="150.60" cy="170.31" r="1.50" fill="#fff" stroke="#151515" stroke-width="0.75"/>
<circle cx="150.00" cy="172.96" r="1.50" fill="#fff" stroke="#151515" stroke-width="0.75"/>
<line x1="162.95" y1="184.31" x2="162.95" y2="181.16" stroke="#111" stroke-width="0.6"/>
<line x1="161.75" y1="181.16" x2="164.15" y2="181.16" stroke="#111" stroke-width="0.6"/>
<circle cx="161.65" cy="181.66" r="1.50" fill="#fff" stroke="#151515" stroke-width="0.75"/>
<circle cx="164.25" cy="183.56" r="1.50" fill="#fff" stroke="#151515" stroke-width="0.75"/>
<circle cx="162.95" cy="186.59" r="1.50" fill="#fff" stroke="#151515" stroke-width="0.75"/>
<circle cx="162.35" cy="189.99" r="1.50" fill="#fff" stroke="#151515" stroke-width="0.75"/>
<line x1="169.30" y1="162.36" x2="169.30" y2="154.29" stroke="#111" stroke-width="0.6"/>
<line x1="168.10" y1="154.29" x2="170.50" y2="154.29" stroke="#111" stroke-width="0.6"/>
<circle cx="168.00" cy="154.79" r="1.50" fill="#fff" stroke="#151515" stroke-width="0.75"/>
<circle cx="170.60" cy="162.36" r="1.50" fill="#fff" stroke="#151515" stroke-width="0.75"/>
<circle cx="169.30" cy="163.88" r="1.50" fill="#fff" stroke="#151515" stroke-width="0.75"/>
<circle cx="168.70" cy="168.42" r="1.50" fill="#fff" stroke="#151515" stroke-width="0.75"/>
<line x1="138.20" y1="223.80" x2="138.20" y2="147.20" stroke="#222" stroke-width="1.0"/>
<line x1="136.20" y1="223.30" x2="138.20" y2="223.30" stroke="#222" stroke-width="0.9"/>
<text x="135.20" y="226.00" font-size="7.738" text-anchor="end" stroke="#1c1c1c" stroke-width="0.248">0.0</text>
<line x1="136.20" y1="204.38" x2="138.20" y2="204.38" stroke="#222" stroke-width="0.9"/>
<text x="135.20" y="207.08" font-size="7.738" text-anchor="end" stroke="#1c1c1c" stroke-width="0.248">0.5</text>
<line x1="136.20" y1="185.45" x2="138.20" y2="185.45" stroke="#222" stroke-width="0.9"/>
<text x="135.20" y="188.15" font-size="7.738" text-anchor="end" stroke="#1c1c1c" stroke-width="0.248">1.0</text>
<line x1="136.20" y1="166.53" x2="138.20" y2="166.53" stroke="#222" stroke-width="0.9"/>
<text x="135.20" y="169.23" font-size="7.738" text-anchor="end" stroke="#1c1c1c" stroke-width="0.248">1.5</text>
<line x1="136.20" y1="147.60" x2="138.20" y2="147.60" stroke="#222" stroke-width="0.9"/>
<text x="135.20" y="150.30" font-size="7.738" text-anchor="end" stroke="#1c1c1c" stroke-width="0.248">2.0</text>
<line x1="138.20" y1="223.30" x2="174.60" y2="223.30" stroke="#222" stroke-width="1.0"/>
<line x1="147.50" y1="223.30" x2="147.50" y2="225.50" stroke="#222" stroke-width="0.9"/>
<line x1="166.10" y1="223.30" x2="166.10" y2="225.50" stroke="#222" stroke-width="0.9"/>
<text x="150.60" y="160.20" font-size="7.359999999999999" text-anchor="middle" stroke="#1c1c1c" stroke-width="0.236">***</text>
<text x="168.90" y="152.40" font-size="7.359999999999999" text-anchor="middle" stroke="#1c1c1c" stroke-width="0.236">**</text>
<text x="115.40" y="185.90" font-size="7.6" text-anchor="middle" stroke="#1c1c1c" stroke-width="0.243" transform="rotate(-90 115.40 185.90)">Relative overall m<tspan font-size="4.6" dy="-2.6">6</tspan><tspan dy="2.6">A level</tspan></text>
<text x="151.00" y="230.70" font-size="7.696000000000001" text-anchor="end" stroke="#1c1c1c" stroke-width="0.246" transform="rotate(-45 151.00 230.70)">ECA-109</text>
<text x="170.00" y="230.70" font-size="7.696000000000001" text-anchor="end" stroke="#1c1c1c" stroke-width="0.246" transform="rotate(-45 170.00 230.70)">KYSE-150</text>
<text x="181.26" y="129.30" font-size="12.5" fill="#000" font-weight="bold">E</text>
<text x="226.00" y="133.80" font-size="7.0" text-anchor="middle" stroke="#1c1c1c" stroke-width="0.224">Motif</text>
<text x="251.20" y="133.80" font-size="7.3" stroke="#1c1c1c" stroke-width="0.234"><tspan font-style="italic">P</tspan> value</text>
<text font-size="10" fill="#eea520" stroke="#eea520" stroke-width="0.12" transform="translate(208.28 176.40) scale(0.944 5.352)">G</text>
<text font-size="10" fill="#eea520" stroke="#eea520" stroke-width="0.12" transform="translate(208.83 176.40) scale(0.944 5.352)">G</text>
<text font-size="10" fill="#eea520" stroke="#eea520" stroke-width="0.12" transform="translate(214.86 176.40) scale(0.944 5.352)">G</text>
<text font-size="10" fill="#eea520" stroke="#eea520" stroke-width="0.12" transform="translate(215.41 176.40) scale(0.944 5.352)">G</text>
<text font-size="10" fill="#d02434" stroke="#d02434" stroke-width="0.12" transform="translate(221.86 176.40) scale(0.936 5.507)">A</text>
<text font-size="10" fill="#d02434" stroke="#d02434" stroke-width="0.12" transform="translate(222.41 176.40) scale(0.936 5.507)">A</text>
<text font-size="10" fill="#1c2a88" stroke="#1c2a88" stroke-width="0.12" transform="translate(228.00 176.40) scale(0.981 5.352)">C</text>
<text font-size="10" fill="#1c2a88" stroke="#1c2a88" stroke-width="0.12" transform="translate(228.55 176.40) scale(0.981 5.352)">C</text>
<text font-size="10" fill="#1a7e3e" stroke="#1a7e3e" stroke-width="0.12" transform="translate(234.26 176.40) scale(1.084 5.429)">U</text>
<text font-size="10" fill="#1a7e3e" stroke="#1a7e3e" stroke-width="0.12" transform="translate(234.81 176.40) scale(1.084 5.429)">U</text>
<text font-size="10" fill="#eea520" stroke="#eea520" stroke-width="0.12" transform="translate(208.51 221.50) scale(0.885 5.028)">G</text>
<text font-size="10" fill="#eea520" stroke="#eea520" stroke-width="0.12" transform="translate(209.06 221.50) scale(0.885 5.028)">G</text>
<text font-size="10" fill="#eea520" stroke="#eea520" stroke-width="0.12" transform="translate(214.61 220.80) scale(0.870 3.634)">G</text>
<text font-size="10" fill="#eea520" stroke="#eea520" stroke-width="0.12" transform="translate(215.16 220.80) scale(0.870 3.634)">G</text>
<text font-size="10" fill="#d02434" stroke="#d02434" stroke-width="0.12" transform="translate(220.90 222.70) scale(1.076 5.406)">A</text>
<text font-size="10" fill="#d02434" stroke="#d02434" stroke-width="0.12" transform="translate(221.45 222.70) scale(1.076 5.406)">A</text>
<text font-size="10" fill="#1c2a88" stroke="#1c2a88" stroke-width="0.12" transform="translate(227.85 222.70) scale(1.000 5.254)">C</text>
<text font-size="10" fill="#1c2a88" stroke="#1c2a88" stroke-width="0.12" transform="translate(228.40 222.70) scale(1.000 5.254)">C</text>
<text font-size="10" fill="#1a7e3e" stroke="#1a7e3e" stroke-width="0.12" transform="translate(234.15 222.70) scale(1.070 5.329)">U</text>
<text font-size="10" fill="#1a7e3e" stroke="#1a7e3e" stroke-width="0.12" transform="translate(234.70 222.70) scale(1.070 5.329)">U</text>
<text font-size="10" fill="#d02434" stroke="#d02434" stroke-width="0.12" transform="translate(209.53 224.00) scale(0.485 0.348)">A</text>
<text font-size="10" fill="#d02434" stroke="#d02434" stroke-width="0.12" transform="translate(210.08 224.00) scale(0.485 0.348)">A</text>
<text font-size="10" fill="#1c2a88" stroke="#1c2a88" stroke-width="0.12" transform="translate(215.56 223.80) scale(0.381 0.366)">C</text>
<text font-size="10" fill="#1c2a88" stroke="#1c2a88" stroke-width="0.12" transform="translate(216.11 223.80) scale(0.381 0.366)">C</text>
<text font-size="10" fill="#eea520" stroke="#eea520" stroke-width="0.12" transform="translate(217.97 223.80) scale(0.366 0.366)">G</text>
<text font-size="10" fill="#eea520" stroke="#eea520" stroke-width="0.12" transform="translate(218.52 223.80) scale(0.366 0.366)">G</text>
<text x="204.30" y="157.00" font-size="7.5" text-anchor="middle" stroke="#1c1c1c" stroke-width="0.240" transform="rotate(-90 204.30 157.00)">si<tspan font-style="italic">PRP19</tspan>_1</text>
<text x="204.30" y="204.50" font-size="7.5" text-anchor="middle" stroke="#1c1c1c" stroke-width="0.240" transform="rotate(-90 204.30 204.50)">NC</text>
<text x="251.20" y="162.50" font-size="7.3" stroke="#1c1c1c" stroke-width="0.234">2.3e-21</text>
<text x="251.20" y="211.70" font-size="7.3" stroke="#1c1c1c" stroke-width="0.234">3.3e-26</text>
<text x="299.46" y="128.90" font-size="12.5" fill="#000" font-weight="bold">F</text>
<rect x="334.1" y="139.4" width="97.9" height="73.8" fill="none" stroke="#4a4a4a" stroke-width="0.8"/>
<line x1="332.10" y1="209.70" x2="334.10" y2="209.70" stroke="#333" stroke-width="0.7"/>
<text x="331.30" y="212.30" font-size="7.3" text-anchor="end" stroke="#1c1c1c" stroke-width="0.234">0.0</text>
<line x1="332.10" y1="189.00" x2="334.10" y2="189.00" stroke="#333" stroke-width="0.7"/>
<text x="331.30" y="191.60" font-size="7.3" text-anchor="end" stroke="#1c1c1c" stroke-width="0.234">0.2</text>
<line x1="332.10" y1="168.30" x2="334.10" y2="168.30" stroke="#333" stroke-width="0.7"/>
<text x="331.30" y="170.90" font-size="7.3" text-anchor="end" stroke="#1c1c1c" stroke-width="0.234">0.4</text>
<line x1="332.10" y1="147.60" x2="334.10" y2="147.60" stroke="#333" stroke-width="0.7"/>
<text x="331.30" y="150.20" font-size="7.3" text-anchor="end" stroke="#1c1c1c" stroke-width="0.234">0.6</text>
<line x1="334.50" y1="210.10" x2="431.60" y2="210.10" stroke="#c4c4c4" stroke-width="0.7"/>
<line x1="366.80" y1="139.80" x2="366.80" y2="212.80" stroke="#9a9a9a" stroke-width="0.6" stroke-dasharray="1.6,1.4"/>
<line x1="399.30" y1="139.80" x2="399.30" y2="212.80" stroke="#9a9a9a" stroke-width="0.6" stroke-dasharray="1.6,1.4"/>
<line x1="350.20" y1="213.20" x2="350.20" y2="215.00" stroke="#333" stroke-width="0.7"/>
<text x="350.20" y="221.30" font-size="7.3" text-anchor="middle" stroke="#1c1c1c" stroke-width="0.234">5'UTR</text>
<line x1="382.90" y1="213.20" x2="382.90" y2="215.00" stroke="#333" stroke-width="0.7"/>
<text x="382.90" y="221.30" font-size="7.3" text-anchor="middle" stroke="#1c1c1c" stroke-width="0.234">CDS</text>
<line x1="415.80" y1="213.20" x2="415.80" y2="215.00" stroke="#333" stroke-width="0.7"/>
<text x="415.80" y="221.30" font-size="7.3" text-anchor="middle" stroke="#1c1c1c" stroke-width="0.234">3'UTR</text>
<text x="314.00" y="176.20" font-size="7.3" text-anchor="middle" stroke="#1c1c1c" stroke-width="0.234" transform="rotate(-90 314.00 176.20)">Peak density</text>
<path d="M334.4,201.8 L345.0,201.0 L356.0,200.3 L366.2,199.3 L366.9,175.0 L367.6,149.5 L369.0,153.0 L372.0,154.0 L375.0,154.5 L380.0,154.8 L385.0,155.2 L390.0,155.8 L393.0,154.8 L396.0,152.2 L398.0,147.1 L399.2,142.1 L400.0,149.1 L400.6,156.0 L402.0,158.2 L405.0,160.8 L410.0,164.7 L415.0,168.3 L420.0,171.8 L425.0,175.4 L429.0,178.0 L431.0,182.5 L432.0,184.5" fill="none" stroke="#55555c" stroke-width="0.85"/>
<path d="M334.4,202.2 L345.0,201.4 L356.0,200.7 L366.2,199.7 L366.9,175.4 L367.6,149.9 L369.0,153.4 L372.0,154.4 L375.0,154.9 L380.0,155.2 L385.0,155.6 L390.0,156.2 L393.0,155.2 L396.0,152.6 L398.0,147.5 L399.2,142.5 L400.0,149.5 L400.6,156.4 L402.0,158.6 L405.0,161.2 L410.0,165.1 L415.0,168.7 L420.0,172.2 L425.0,175.8 L429.0,178.4 L431.0,182.9 L432.0,184.9" fill="none" stroke="#a07a7e" stroke-width="0.5"/>
<line x1="366.90" y1="199.00" x2="367.30" y2="152.00" stroke="#6a9ac8" stroke-width="0.6"/>
<line x1="370.80" y1="178.40" x2="372.60" y2="178.40" stroke="#b05050" stroke-width="0.7"/>
<text x="372.80" y="181.00" font-size="7.4" stroke="#1c1c1c" stroke-width="0.237">si<tspan font-style="italic">PRP19</tspan>_1</text>
<line x1="370.80" y1="187.10" x2="372.60" y2="187.10" stroke="#666" stroke-width="0.7"/>
<text x="372.80" y="189.70" font-size="7.4" stroke="#1c1c1c" stroke-width="0.237">NC</text>
<text x="2.49" y="258.38" font-size="12.5" fill="#000" font-weight="bold">G</text>
<text x="38.60" y="286.00" font-size="7.3" text-anchor="end" stroke="#1c1c1c" stroke-width="0.234">si<tspan font-style="italic">PRP19</tspan>_1</text>
<text x="38.60" y="303.30" font-size="7.3" text-anchor="end" stroke="#1c1c1c" stroke-width="0.234">NC</text>
<text x="42.00" y="275.50" font-size="5.5" stroke="#1c1c1c" stroke-width="0.100">[0-459]</text>
<text x="42.00" y="293.20" font-size="5.5" stroke="#1c1c1c" stroke-width="0.100">[0-459]</text>
<line x1="45.00" y1="283.50" x2="247.50" y2="283.50" stroke="#d8c4c8" stroke-width="0.7"/>
<path d="M49.8,283.5 h0.6 v-0.6 h-0.6 Z M54.6,283.5 h0.6 v-1.5 h-0.6 Z M60.3,283.5 h7.7 v-1.4 h-7.7 Z M63.0,283.5 h1.0 v-2.2 h-1.0 Z M74.4,283.5 h5.6 v-4.5 h-5.6 Z M75.2,283.5 h1.2 v-15.4 h-1.2 Z M77.2,283.5 h1.0 v-8.0 h-1.0 Z M78.3,283.5 h0.9 v-5.5 h-0.9 Z M83.0,283.5 h0.9 v-3.0 h-0.9 Z M85.0,283.5 h0.6 v-1.5 h-0.6 Z M91.0,283.5 h0.5 v-1.0 h-0.5 Z M99.8,283.5 h3.8 v-1.8 h-3.8 Z M104.2,283.5 h0.8 v-2.6 h-0.8 Z M107.5,283.5 h6.5 v-1.8 h-6.5 Z M117.6,283.5 h0.8 v-5.0 h-0.8 Z M120.0,283.5 h7.7 v-3.0 h-7.7 Z M123.5,283.5 h0.7 v-4.5 h-0.7 Z M129.6,283.5 h3.8 v-4.8 h-3.8 Z M132.3,283.5 h0.9 v-10.4 h-0.9 Z M154.0,283.5 h0.7 v-3.5 h-0.7 Z M245.6,283.5 h1.6 v-4.5 h-1.6 Z M246.6,283.5 h0.6 v-6.0 h-0.6 Z " fill="#9e1a30"/>
<line x1="45.00" y1="301.20" x2="247.50" y2="301.20" stroke="#c4d6d0" stroke-width="0.7"/>
<path d="M49.8,301.2 h0.6 v-0.6 h-0.6 Z M54.6,301.2 h0.6 v-1.4 h-0.6 Z M60.3,301.2 h7.7 v-1.3 h-7.7 Z M63.0,301.2 h1.0 v-2.0 h-1.0 Z M74.4,301.2 h5.6 v-2.8 h-5.6 Z M75.2,301.2 h1.2 v-9.7 h-1.2 Z M77.2,301.2 h1.0 v-5.0 h-1.0 Z M78.3,301.2 h0.9 v-3.5 h-0.9 Z M83.0,301.2 h0.9 v-2.8 h-0.9 Z M85.0,301.2 h0.6 v-1.4 h-0.6 Z M91.0,301.2 h0.5 v-0.9 h-0.5 Z M99.8,301.2 h3.8 v-1.7 h-3.8 Z M104.2,301.2 h0.8 v-2.4 h-0.8 Z M107.5,301.2 h6.5 v-1.7 h-6.5 Z M117.6,301.2 h0.8 v-3.1 h-0.8 Z M120.0,301.2 h7.7 v-2.8 h-7.7 Z M123.5,301.2 h0.7 v-2.8 h-0.7 Z M129.6,301.2 h3.8 v-3.0 h-3.8 Z M132.3,301.2 h0.9 v-6.6 h-0.9 Z M154.0,301.2 h0.7 v-2.2 h-0.7 Z M245.6,301.2 h1.6 v-2.8 h-1.6 Z M246.6,301.2 h0.6 v-3.8 h-0.6 Z " fill="#1e6d63"/>
<rect x="71.7" y="263.8" width="9.3" height="40" fill="none" stroke="#e04848" stroke-width="0.6"/>
<line x1="47.80" y1="313.30" x2="136.00" y2="313.30" stroke="#22228a" stroke-width="0.6"/>
<line x1="136.00" y1="313.30" x2="247.50" y2="313.30" stroke="#22228a" stroke-width="0.6" stroke-dasharray="1.2,1.2"/>
<rect x="59.40" y="312.30" width="20.20" height="2.00" fill="#22228a"/>
<rect x="83.40" y="311.90" width="1.90" height="2.80" fill="#22228a"/>
<rect x="88.60" y="311.90" width="1.60" height="2.80" fill="#22228a"/>
<rect x="92.20" y="311.90" width="0.80" height="2.80" fill="#22228a"/>
<rect x="94.00" y="311.90" width="0.80" height="2.80" fill="#22228a"/>
<rect x="100.20" y="311.90" width="1.50" height="2.80" fill="#22228a"/>
<rect x="102.70" y="311.90" width="1.30" height="2.80" fill="#22228a"/>
<rect x="105.20" y="311.90" width="1.30" height="2.80" fill="#22228a"/>
<rect x="107.50" y="311.90" width="1.50" height="2.80" fill="#22228a"/>
<rect x="110.30" y="311.90" width="1.00" height="2.80" fill="#22228a"/>
<rect x="113.20" y="311.90" width="1.00" height="2.80" fill="#22228a"/>
<rect x="116.60" y="311.90" width="0.80" height="2.80" fill="#22228a"/>
<rect x="121.90" y="311.90" width="2.50" height="2.80" fill="#22228a"/>
<rect x="124.80" y="311.90" width="2.30" height="2.80" fill="#22228a"/>
<rect x="129.60" y="311.90" width="3.20" height="2.80" fill="#22228a"/>
<rect x="245.80" y="311.90" width="1.70" height="2.80" fill="#22228a"/>
<line x1="154.20" y1="311.60" x2="154.20" y2="315.00" stroke="#22228a" stroke-width="0.6"/>
<line x1="57.50" y1="312.30" x2="58.30" y2="313.30" stroke="#22228a" stroke-width="0.5"/>
<line x1="66.00" y1="312.30" x2="66.80" y2="313.30" stroke="#22228a" stroke-width="0.5"/>
<line x1="140.00" y1="312.30" x2="140.80" y2="313.30" stroke="#22228a" stroke-width="0.5"/>
<line x1="170.00" y1="312.30" x2="170.80" y2="313.30" stroke="#22228a" stroke-width="0.5"/>
<line x1="200.00" y1="312.30" x2="200.80" y2="313.30" stroke="#22228a" stroke-width="0.5"/>
<line x1="230.00" y1="312.30" x2="230.80" y2="313.30" stroke="#22228a" stroke-width="0.5"/>
<line x1="70.40" y1="314.80" x2="70.40" y2="325.00" stroke="#333" stroke-width="0.6" stroke-dasharray="1,1"/>
<line x1="59.20" y1="320.60" x2="66.50" y2="320.60" stroke="#111" stroke-width="0.8"/>
<path d="M65.6,319.0 L68.4,320.6 L65.6,322.2 Z" fill="#111"/>
<text x="72.50" y="324.50" font-size="7.3" stroke="#1c1c1c" stroke-width="0.234">3'UTR</text>
<text x="153.80" y="324.00" font-size="7.3" text-anchor="middle" stroke="#1c1c1c" stroke-width="0.234"><tspan font-style="italic">SREBF1</tspan></text>
<text x="223.70" y="324.00" font-size="7.3" stroke="#1c1c1c" stroke-width="0.234">5' UTR</text>
<line x1="247.50" y1="314.80" x2="247.50" y2="325.00" stroke="#333" stroke-width="0.6" stroke-dasharray="1,1"/>
<line x1="251.50" y1="320.20" x2="258.80" y2="320.20" stroke="#111" stroke-width="0.8"/>
<path d="M252.2,318.6 L249.4,320.2 L252.2,321.8 Z" fill="#111"/>
<text x="274.36" y="245.90" font-size="12.5" fill="#000" font-weight="bold">H</text>
<rect x="323.60" y="242.40" width="4.80" height="2.60" fill="#1b5482"/>
<text x="330.40" y="246.47" font-size="7.7" stroke="#1c1c1c" stroke-width="0.246">NC</text>
<rect x="323.60" y="249.30" width="4.80" height="2.60" fill="#aa1e27"/>
<text x="330.40" y="253.37" font-size="7.7" stroke="#1c1c1c" stroke-width="0.246">si<tspan font-style="italic">PRP19</tspan>_1</text>
<rect x="323.80" y="312.25" width="5.80" height="21.25" fill="#1b5482"/>
<rect x="329.60" y="296.06" width="6.00" height="37.44" fill="#aa1e27"/>
<rect x="342.10" y="302.13" width="6.00" height="31.37" fill="#1b5482"/>
<rect x="348.10" y="277.84" width="6.00" height="55.66" fill="#aa1e27"/>
<line x1="326.70" y1="312.25" x2="326.70" y2="307.70" stroke="#111" stroke-width="0.6"/>
<line x1="325.50" y1="307.70" x2="327.90" y2="307.70" stroke="#111" stroke-width="0.6"/>
<circle cx="325.40" cy="308.20" r="1.50" fill="#fff" stroke="#151515" stroke-width="0.75"/>
<circle cx="328.00" cy="311.24" r="1.50" fill="#fff" stroke="#151515" stroke-width="0.75"/>
<circle cx="326.70" cy="313.26" r="1.50" fill="#fff" stroke="#151515" stroke-width="0.75"/>
<circle cx="326.10" cy="315.28" r="1.50" fill="#fff" stroke="#151515" stroke-width="0.75"/>
<line x1="332.60" y1="296.06" x2="332.60" y2="290.50" stroke="#111" stroke-width="0.6"/>
<line x1="331.40" y1="290.50" x2="333.80" y2="290.50" stroke="#111" stroke-width="0.6"/>
<circle cx="331.30" cy="291.00" r="1.50" fill="#fff" stroke="#151515" stroke-width="0.75"/>
<circle cx="333.90" cy="293.02" r="1.50" fill="#fff" stroke="#151515" stroke-width="0.75"/>
<circle cx="332.60" cy="295.04" r="1.50" fill="#fff" stroke="#151515" stroke-width="0.75"/>
<circle cx="332.00" cy="297.07" r="1.50" fill="#fff" stroke="#151515" stroke-width="0.75"/>
<line x1="345.10" y1="302.13" x2="345.10" y2="297.58" stroke="#111" stroke-width="0.6"/>
<line x1="343.90" y1="297.58" x2="346.30" y2="297.58" stroke="#111" stroke-width="0.6"/>
<circle cx="343.80" cy="298.08" r="1.50" fill="#fff" stroke="#151515" stroke-width="0.75"/>
<circle cx="346.40" cy="300.10" r="1.50" fill="#fff" stroke="#151515" stroke-width="0.75"/>
<circle cx="345.10" cy="302.13" r="1.50" fill="#fff" stroke="#151515" stroke-width="0.75"/>
<circle cx="344.50" cy="304.15" r="1.50" fill="#fff" stroke="#151515" stroke-width="0.75"/>
<line x1="351.10" y1="277.84" x2="351.10" y2="269.24" stroke="#111" stroke-width="0.6"/>
<line x1="349.90" y1="269.24" x2="352.30" y2="269.24" stroke="#111" stroke-width="0.6"/>
<circle cx="349.80" cy="269.74" r="1.50" fill="#fff" stroke="#151515" stroke-width="0.75"/>
<circle cx="352.40" cy="272.78" r="1.50" fill="#fff" stroke="#151515" stroke-width="0.75"/>
<circle cx="351.10" cy="276.83" r="1.50" fill="#fff" stroke="#151515" stroke-width="0.75"/>
<circle cx="350.50" cy="279.86" r="1.50" fill="#fff" stroke="#151515" stroke-width="0.75"/>
<line x1="320.70" y1="334.00" x2="320.70" y2="257.20" stroke="#222" stroke-width="1.0"/>
<line x1="318.70" y1="333.50" x2="320.70" y2="333.50" stroke="#222" stroke-width="0.9"/>
<text x="317.70" y="336.20" font-size="7.738" text-anchor="end" stroke="#1c1c1c" stroke-width="0.248">0</text>
<line x1="318.70" y1="318.32" x2="320.70" y2="318.32" stroke="#222" stroke-width="0.9"/>
<text x="317.70" y="321.02" font-size="7.738" text-anchor="end" stroke="#1c1c1c" stroke-width="0.248">15</text>
<line x1="318.70" y1="303.14" x2="320.70" y2="303.14" stroke="#222" stroke-width="0.9"/>
<text x="317.70" y="305.84" font-size="7.738" text-anchor="end" stroke="#1c1c1c" stroke-width="0.248">30</text>
<line x1="318.70" y1="287.96" x2="320.70" y2="287.96" stroke="#222" stroke-width="0.9"/>
<text x="317.70" y="290.66" font-size="7.738" text-anchor="end" stroke="#1c1c1c" stroke-width="0.248">45</text>
<line x1="318.70" y1="272.78" x2="320.70" y2="272.78" stroke="#222" stroke-width="0.9"/>
<text x="317.70" y="275.48" font-size="7.738" text-anchor="end" stroke="#1c1c1c" stroke-width="0.248">60</text>
<line x1="318.70" y1="257.60" x2="320.70" y2="257.60" stroke="#222" stroke-width="0.9"/>
<text x="317.70" y="260.30" font-size="7.738" text-anchor="end" stroke="#1c1c1c" stroke-width="0.248">75</text>
<line x1="320.70" y1="333.50" x2="357.50" y2="333.50" stroke="#222" stroke-width="1.0"/>
<line x1="329.40" y1="333.50" x2="329.40" y2="335.70" stroke="#222" stroke-width="0.9"/>
<line x1="347.80" y1="333.50" x2="347.80" y2="335.70" stroke="#222" stroke-width="0.9"/>
<text x="332.30" y="288.10" font-size="7.359999999999999" text-anchor="middle" stroke="#1c1c1c" stroke-width="0.236">***</text>
<text x="351.00" y="267.10" font-size="7.359999999999999" text-anchor="middle" stroke="#1c1c1c" stroke-width="0.236">***</text>
<text x="291.90" y="296.10" font-size="7.5" text-anchor="middle" stroke="#1c1c1c" stroke-width="0.240" transform="rotate(-90 291.90 296.10)">Relative m<tspan font-size="4.6" dy="-2.6">6</tspan><tspan dy="2.6">A enrichment of</tspan></text>
<text x="302.10" y="301.30" font-size="7.5" text-anchor="middle" stroke="#1c1c1c" stroke-width="0.240" transform="rotate(-90 302.10 301.30)"><tspan font-style="italic">SREBF1</tspan></text>
<text x="334.00" y="341.20" font-size="7.696000000000001" text-anchor="end" stroke="#1c1c1c" stroke-width="0.246" transform="rotate(-45 334.00 341.20)">ECA-109</text>
<text x="353.00" y="341.20" font-size="7.696000000000001" text-anchor="end" stroke="#1c1c1c" stroke-width="0.246" transform="rotate(-45 353.00 341.20)">KYSE-150</text>
<text x="385.86" y="245.60" font-size="12.5" fill="#000" font-weight="bold">I</text>
<rect x="424.40" y="233.80" width="5.20" height="2.80" fill="#1b5482"/>
<text x="431.60" y="237.97" font-size="7.7" stroke="#1c1c1c" stroke-width="0.246">NC</text>
<rect x="424.40" y="241.40" width="5.20" height="2.80" fill="#aa1e27"/>
<text x="431.60" y="245.57" font-size="7.7" stroke="#1c1c1c" stroke-width="0.246">si<tspan font-style="italic">PRP19</tspan>_1</text>
<rect x="424.40" y="249.00" width="5.20" height="2.80" fill="#e2766d"/>
<text x="431.60" y="253.17" font-size="7.7" stroke="#1c1c1c" stroke-width="0.246">si<tspan font-style="italic">PRP19</tspan>_1 + DAA</text>
<rect x="425.20" y="265.40" width="6.40" height="68.10" fill="#1b5482"/>
<rect x="431.60" y="308.98" width="6.30" height="24.52" fill="#aa1e27"/>
<rect x="437.90" y="281.74" width="6.10" height="51.76" fill="#e2766d"/>
<rect x="450.40" y="265.40" width="6.30" height="68.10" fill="#1b5482"/>
<rect x="456.70" y="296.73" width="6.00" height="36.77" fill="#aa1e27"/>
<rect x="462.70" y="275.27" width="6.30" height="58.23" fill="#e2766d"/>
<line x1="428.40" y1="265.40" x2="428.40" y2="260.81" stroke="#111" stroke-width="0.6"/>
<line x1="427.20" y1="260.81" x2="429.60" y2="260.81" stroke="#111" stroke-width="0.6"/>
<circle cx="427.10" cy="261.31" r="1.50" fill="#fff" stroke="#151515" stroke-width="0.75"/>
<circle cx="429.70" cy="264.04" r="1.50" fill="#fff" stroke="#151515" stroke-width="0.75"/>
<circle cx="428.40" cy="266.76" r="1.50" fill="#fff" stroke="#151515" stroke-width="0.75"/>
<circle cx="427.80" cy="268.80" r="1.50" fill="#fff" stroke="#151515" stroke-width="0.75"/>
<line x1="434.75" y1="308.98" x2="434.75" y2="307.12" stroke="#111" stroke-width="0.6"/>
<line x1="433.55" y1="307.12" x2="435.95" y2="307.12" stroke="#111" stroke-width="0.6"/>
<circle cx="433.45" cy="307.62" r="1.50" fill="#fff" stroke="#151515" stroke-width="0.75"/>
<circle cx="436.05" cy="308.98" r="1.50" fill="#fff" stroke="#151515" stroke-width="0.75"/>
<circle cx="434.75" cy="310.35" r="1.50" fill="#fff" stroke="#151515" stroke-width="0.75"/>
<circle cx="434.15" cy="312.39" r="1.50" fill="#fff" stroke="#151515" stroke-width="0.75"/>
<line x1="440.95" y1="281.74" x2="440.95" y2="277.84" stroke="#111" stroke-width="0.6"/>
<line x1="439.75" y1="277.84" x2="442.15" y2="277.84" stroke="#111" stroke-width="0.6"/>
<circle cx="439.65" cy="278.34" r="1.50" fill="#fff" stroke="#151515" stroke-width="0.75"/>
<circle cx="442.25" cy="280.38" r="1.50" fill="#fff" stroke="#151515" stroke-width="0.75"/>
<circle cx="440.95" cy="282.42" r="1.50" fill="#fff" stroke="#151515" stroke-width="0.75"/>
<circle cx="440.35" cy="285.83" r="1.50" fill="#fff" stroke="#151515" stroke-width="0.75"/>
<line x1="453.55" y1="265.40" x2="453.55" y2="260.81" stroke="#111" stroke-width="0.6"/>
<line x1="452.35" y1="260.81" x2="454.75" y2="260.81" stroke="#111" stroke-width="0.6"/>
<circle cx="452.25" cy="261.31" r="1.50" fill="#fff" stroke="#151515" stroke-width="0.75"/>
<circle cx="454.85" cy="264.04" r="1.50" fill="#fff" stroke="#151515" stroke-width="0.75"/>
<circle cx="453.55" cy="265.40" r="1.50" fill="#fff" stroke="#151515" stroke-width="0.75"/>
<circle cx="452.95" cy="268.80" r="1.50" fill="#fff" stroke="#151515" stroke-width="0.75"/>
<line x1="459.70" y1="296.73" x2="459.70" y2="294.18" stroke="#111" stroke-width="0.6"/>
<line x1="458.50" y1="294.18" x2="460.90" y2="294.18" stroke="#111" stroke-width="0.6"/>
<circle cx="458.40" cy="294.68" r="1.50" fill="#fff" stroke="#151515" stroke-width="0.75"/>
<circle cx="461.00" cy="296.04" r="1.50" fill="#fff" stroke="#151515" stroke-width="0.75"/>
<circle cx="459.70" cy="296.73" r="1.50" fill="#fff" stroke="#151515" stroke-width="0.75"/>
<circle cx="459.10" cy="297.41" r="1.50" fill="#fff" stroke="#151515" stroke-width="0.75"/>
<line x1="465.85" y1="275.27" x2="465.85" y2="268.99" stroke="#111" stroke-width="0.6"/>
<line x1="464.65" y1="268.99" x2="467.05" y2="268.99" stroke="#111" stroke-width="0.6"/>
<circle cx="464.55" cy="269.49" r="1.50" fill="#fff" stroke="#151515" stroke-width="0.75"/>
<circle cx="467.15" cy="272.21" r="1.50" fill="#fff" stroke="#151515" stroke-width="0.75"/>
<circle cx="465.85" cy="276.30" r="1.50" fill="#fff" stroke="#151515" stroke-width="0.75"/>
<circle cx="465.25" cy="281.74" r="1.50" fill="#fff" stroke="#151515" stroke-width="0.75"/>
<line x1="422.30" y1="334.00" x2="422.30" y2="256.83" stroke="#222" stroke-width="1.0"/>
<line x1="420.30" y1="333.50" x2="422.30" y2="333.50" stroke="#222" stroke-width="0.9"/>
<text x="419.30" y="336.20" font-size="7.738" text-anchor="end" stroke="#1c1c1c" stroke-width="0.248">0</text>
<line x1="420.30" y1="319.88" x2="422.30" y2="319.88" stroke="#222" stroke-width="0.9"/>
<text x="419.30" y="322.58" font-size="7.738" text-anchor="end" stroke="#1c1c1c" stroke-width="0.248">20</text>
<line x1="420.30" y1="306.26" x2="422.30" y2="306.26" stroke="#222" stroke-width="0.9"/>
<text x="419.30" y="308.96" font-size="7.738" text-anchor="end" stroke="#1c1c1c" stroke-width="0.248">40</text>
<line x1="420.30" y1="292.64" x2="422.30" y2="292.64" stroke="#222" stroke-width="0.9"/>
<text x="419.30" y="295.34" font-size="7.738" text-anchor="end" stroke="#1c1c1c" stroke-width="0.248">60</text>
<line x1="420.30" y1="279.02" x2="422.30" y2="279.02" stroke="#222" stroke-width="0.9"/>
<text x="419.30" y="281.72" font-size="7.738" text-anchor="end" stroke="#1c1c1c" stroke-width="0.248">80</text>
<line x1="420.30" y1="265.40" x2="422.30" y2="265.40" stroke="#222" stroke-width="0.9"/>
<text x="419.30" y="268.10" font-size="7.738" text-anchor="end" stroke="#1c1c1c" stroke-width="0.248">100</text>
<line x1="422.30" y1="333.50" x2="472.20" y2="333.50" stroke="#222" stroke-width="1.0"/>
<line x1="434.40" y1="333.50" x2="434.40" y2="335.70" stroke="#222" stroke-width="0.9"/>
<line x1="459.30" y1="333.50" x2="459.30" y2="335.70" stroke="#222" stroke-width="0.9"/>
<path d="M433.5,303.2 V270.0 H441.1 V272.8" fill="none" stroke="#8a8a8a" stroke-width="0.6"/>
<text x="437.70" y="270.20" font-size="7.13" text-anchor="middle" stroke="#1c1c1c" stroke-width="0.228">***</text>
<path d="M459.5,293.0 V263.3 H466.5 V265.8" fill="none" stroke="#8a8a8a" stroke-width="0.6"/>
<text x="463.10" y="263.20" font-size="7.13" text-anchor="middle" stroke="#1c1c1c" stroke-width="0.228">**</text>
<text x="401.20" y="297.20" font-size="7.4" text-anchor="middle" stroke="#1c1c1c" stroke-width="0.237" transform="rotate(-90 401.20 297.20)">Relative <tspan font-style="italic">SREBF1</tspan> mRNA level</text>
<text x="439.50" y="341.20" font-size="7.696000000000001" text-anchor="end" stroke="#1c1c1c" stroke-width="0.246" transform="rotate(-45 439.50 341.20)">ECA-109</text>
<text x="464.00" y="341.20" font-size="7.696000000000001" text-anchor="end" stroke="#1c1c1c" stroke-width="0.246" transform="rotate(-45 464.00 341.20)">KYSE-150</text>
<text x="2.41" y="347.68" font-size="12.5" fill="#000" font-weight="bold">J</text>
<path d="M36.00,385.00 V528.00 M36.00,385.00 H179.00 M43.15,385.00 V528.00 M36.00,392.15 H179.00 M50.30,385.00 V528.00 M36.00,399.30 H179.00 M57.45,385.00 V528.00 M36.00,406.45 H179.00 M64.60,385.00 V528.00 M36.00,413.60 H179.00 M71.75,385.00 V528.00 M36.00,420.75 H179.00 M78.90,385.00 V528.00 M36.00,427.90 H179.00 M86.05,385.00 V528.00 M36.00,435.05 H179.00 M93.20,385.00 V528.00 M36.00,442.20 H179.00 M100.35,385.00 V528.00 M36.00,449.35 H179.00 M107.50,385.00 V528.00 M36.00,456.50 H179.00 M114.65,385.00 V528.00 M36.00,463.65 H179.00 M121.80,385.00 V528.00 M36.00,470.80 H179.00 M128.95,385.00 V528.00 M36.00,477.95 H179.00 M136.10,385.00 V528.00 M36.00,485.10 H179.00 M143.25,385.00 V528.00 M36.00,492.25 H179.00 M150.40,385.00 V528.00 M36.00,499.40 H179.00 M157.55,385.00 V528.00 M36.00,506.55 H179.00 M164.70,385.00 V528.00 M36.00,513.70 H179.00 M171.85,385.00 V528.00 M36.00,520.85 H179.00 M179.00,385.00 V528.00 M36.00,528.00 H179.00 " stroke="#e4e4e4" stroke-width="0.5" fill="none"/>
<circle cx="39.58" cy="388.57" r="3.10" fill="#c6132b" stroke="#94101f" stroke-width="0.5"/>
<circle cx="46.73" cy="388.57" r="0.75" fill="#f0d0d4"/>
<circle cx="53.88" cy="388.57" r="0.75" fill="#f0d0d4"/>
<circle cx="61.03" cy="388.57" r="1.45" fill="#dda2aa" stroke="#c98e96" stroke-width="0.35"/>
<circle cx="68.18" cy="388.57" r="0.75" fill="#f0d0d4"/>
<circle cx="75.33" cy="388.57" r="0.75" fill="#f0d0d4"/>
<circle cx="82.47" cy="388.57" r="0.75" fill="#f0d0d4"/>
<circle cx="89.62" cy="388.57" r="0.75" fill="#f0d0d4"/>
<circle cx="96.78" cy="388.57" r="1.45" fill="#dda2aa" stroke="#c98e96" stroke-width="0.35"/>
<circle cx="103.92" cy="388.57" r="0.75" fill="#f0d0d4"/>
<circle cx="111.08" cy="388.57" r="0.75" fill="#f0d0d4"/>
<circle cx="118.23" cy="388.57" r="0.75" fill="#f0d0d4"/>
<circle cx="125.38" cy="388.57" r="0.75" fill="#f0d0d4"/>
<circle cx="132.53" cy="388.57" r="1.45" fill="#9fc0d4" stroke="#88aac0" stroke-width="0.35"/>
<circle cx="139.68" cy="388.57" r="1.78" fill="#d27884" stroke="#bc6470" stroke-width="0.35"/>
<circle cx="146.82" cy="388.57" r="1.57" fill="#dda2aa" stroke="#c98e96" stroke-width="0.35"/>
<circle cx="153.98" cy="388.57" r="1.40" fill="#dda2aa" stroke="#c98e96" stroke-width="0.35"/>
<circle cx="161.12" cy="388.57" r="1.45" fill="#dda2aa" stroke="#c98e96" stroke-width="0.35"/>
<circle cx="168.28" cy="388.57" r="0.79" fill="#f0d0d4"/>
<circle cx="175.43" cy="388.57" r="1.40" fill="#dda2aa" stroke="#c98e96" stroke-width="0.35"/>
<circle cx="39.58" cy="395.73" r="0.75" fill="#f0d0d4"/>
<circle cx="46.73" cy="395.73" r="3.10" fill="#c6132b" stroke="#94101f" stroke-width="0.5"/>
<circle cx="53.88" cy="395.73" r="0.75" fill="#f0d0d4"/>
<circle cx="61.03" cy="395.73" r="0.75" fill="#f0d0d4"/>
<circle cx="68.18" cy="395.73" r="1.45" fill="#dda2aa" stroke="#c98e96" stroke-width="0.35"/>
<circle cx="75.33" cy="395.73" r="0.79" fill="#f0d0d4"/>
<circle cx="82.47" cy="395.73" r="1.19" fill="#f0d0d4" stroke="#e2bcc0" stroke-width="0.35"/>
<circle cx="89.62" cy="395.73" r="1.50" fill="#dda2aa" stroke="#c98e96" stroke-width="0.35"/>
<circle cx="96.78" cy="395.73" r="1.40" fill="#dda2aa" stroke="#c98e96" stroke-width="0.35"/>
<circle cx="103.92" cy="395.73" r="1.40" fill="#dda2aa" stroke="#c98e96" stroke-width="0.35"/>
<circle cx="111.08" cy="395.73" r="0.75" fill="#f0d0d4"/>
<circle cx="118.23" cy="395.73" r="1.19" fill="#f0d0d4" stroke="#e2bcc0" stroke-width="0.35"/>
<circle cx="125.38" cy="395.73" r="1.40" fill="#dda2aa" stroke="#c98e96" stroke-width="0.35"/>
<circle cx="132.53" cy="395.73" r="0.75" fill="#f0d0d4"/>
<circle cx="139.68" cy="395.73" r="1.57" fill="#dda2aa" stroke="#c98e96" stroke-width="0.35"/>
<circle cx="146.82" cy="395.73" r="1.45" fill="#dda2aa" stroke="#c98e96" stroke-width="0.35"/>
<circle cx="153.98" cy="395.73" r="0.75" fill="#f0d0d4"/>
<circle cx="161.12" cy="395.73" r="0.79" fill="#f0d0d4"/>
<circle cx="168.28" cy="395.73" r="0.75" fill="#f0d0d4"/>
<circle cx="175.43" cy="395.73" r="0.75" fill="#f0d0d4"/>
<circle cx="39.58" cy="402.88" r="0.75" fill="#f0d0d4"/>
<circle cx="46.73" cy="402.88" r="0.75" fill="#f0d0d4"/>
<circle cx="53.88" cy="402.88" r="3.10" fill="#c6132b" stroke="#94101f" stroke-width="0.5"/>
<circle cx="61.03" cy="402.88" r="1.40" fill="#dda2aa" stroke="#c98e96" stroke-width="0.35"/>
<circle cx="68.18" cy="402.88" r="1.57" fill="#dda2aa" stroke="#c98e96" stroke-width="0.35"/>
<circle cx="75.33" cy="402.88" r="1.68" fill="#dda2aa" stroke="#c98e96" stroke-width="0.35"/>
<circle cx="82.47" cy="402.88" r="1.24" fill="#dda2aa" stroke="#c98e96" stroke-width="0.35"/>
<circle cx="89.62" cy="402.88" r="1.45" fill="#dda2aa" stroke="#c98e96" stroke-width="0.35"/>
<circle cx="96.78" cy="402.88" r="0.75" fill="#f0d0d4"/>
<circle cx="103.92" cy="402.88" r="1.40" fill="#dda2aa" stroke="#c98e96" stroke-width="0.35"/>
<circle cx="111.08" cy="402.88" r="1.78" fill="#d27884" stroke="#bc6470" stroke-width="0.35"/>
<circle cx="118.23" cy="402.88" r="1.45" fill="#dda2aa" stroke="#c98e96" stroke-width="0.35"/>
<circle cx="125.38" cy="402.88" r="1.78" fill="#d27884" stroke="#bc6470" stroke-width="0.35"/>
<circle cx="132.53" cy="402.88" r="1.40" fill="#dda2aa" stroke="#c98e96" stroke-width="0.35"/>
<circle cx="139.68" cy="402.88" r="0.75" fill="#f0d0d4"/>
<circle cx="146.82" cy="402.88" r="1.68" fill="#dda2aa" stroke="#c98e96" stroke-width="0.35"/>
<circle cx="153.98" cy="402.88" r="1.19" fill="#f0d0d4" stroke="#e2bcc0" stroke-width="0.35"/>
<circle cx="161.12" cy="402.88" r="0.75" fill="#f0d0d4"/>
<circle cx="168.28" cy="402.88" r="0.75" fill="#f0d0d4"/>
<circle cx="175.43" cy="402.88" r="1.40" fill="#dda2aa" stroke="#c98e96" stroke-width="0.35"/>
<circle cx="39.58" cy="410.02" r="1.45" fill="#dda2aa" stroke="#c98e96" stroke-width="0.35"/>
<circle cx="46.73" cy="410.02" r="0.75" fill="#f0d0d4"/>
<circle cx="53.88" cy="410.02" r="1.40" fill="#dda2aa" stroke="#c98e96" stroke-width="0.35"/>
<circle cx="61.03" cy="410.02" r="3.10" fill="#c6132b" stroke="#94101f" stroke-width="0.5"/>
<circle cx="68.18" cy="410.02" r="0.75" fill="#f0d0d4"/>
<circle cx="75.33" cy="410.02" r="1.40" fill="#dda2aa" stroke="#c98e96" stroke-width="0.35"/>
<circle cx="82.47" cy="410.02" r="0.75" fill="#f0d0d4"/>
<circle cx="89.62" cy="410.02" r="0.75" fill="#f0d0d4"/>
<circle cx="96.78" cy="410.02" r="0.75" fill="#f0d0d4"/>
<circle cx="103.92" cy="410.02" r="0.79" fill="#f0d0d4"/>
<circle cx="111.08" cy="410.02" r="1.45" fill="#dda2aa" stroke="#c98e96" stroke-width="0.35"/>
<circle cx="118.23" cy="410.02" r="0.75" fill="#f0d0d4"/>
<circle cx="125.38" cy="410.02" r="1.40" fill="#dda2aa" stroke="#c98e96" stroke-width="0.35"/>
<circle cx="132.53" cy="410.02" r="0.84" fill="#cfe0ea"/>
<circle cx="139.68" cy="410.02" r="1.78" fill="#d27884" stroke="#bc6470" stroke-width="0.35"/>
<circle cx="146.82" cy="410.02" r="1.40" fill="#dda2aa" stroke="#c98e96" stroke-width="0.35"/>
<circle cx="153.98" cy="410.02" r="1.57" fill="#dda2aa" stroke="#c98e96" stroke-width="0.35"/>
<circle cx="161.12" cy="410.02" r="0.75" fill="#f0d0d4"/>
<circle cx="168.28" cy="410.02" r="0.79" fill="#f0d0d4"/>
<circle cx="175.43" cy="410.02" r="0.75" fill="#f0d0d4"/>
<circle cx="39.58" cy="417.18" r="0.75" fill="#f0d0d4"/>
<circle cx="46.73" cy="417.18" r="1.45" fill="#dda2aa" stroke="#c98e96" stroke-width="0.35"/>
<circle cx="53.88" cy="417.18" r="1.57" fill="#dda2aa" stroke="#c98e96" stroke-width="0.35"/>
<circle cx="61.03" cy="417.18" r="0.75" fill="#f0d0d4"/>
<circle cx="68.18" cy="417.18" r="3.10" fill="#c6132b" stroke="#94101f" stroke-width="0.5"/>
<circle cx="75.33" cy="417.18" r="0.75" fill="#f0d0d4"/>
<circle cx="82.47" cy="417.18" r="0.75" fill="#f0d0d4"/>
<circle cx="89.62" cy="417.18" r="1.45" fill="#dda2aa" stroke="#c98e96" stroke-width="0.35"/>
<circle cx="96.78" cy="417.18" r="0.75" fill="#f0d0d4"/>
<circle cx="103.92" cy="417.18" r="1.19" fill="#f0d0d4" stroke="#e2bcc0" stroke-width="0.35"/>
<circle cx="111.08" cy="417.18" r="0.75" fill="#f0d0d4"/>
<circle cx="118.23" cy="417.18" r="0.79" fill="#f0d0d4"/>
<circle cx="125.38" cy="417.18" r="1.40" fill="#dda2aa" stroke="#c98e96" stroke-width="0.35"/>
<circle cx="132.53" cy="417.18" r="0.75" fill="#f0d0d4"/>
<circle cx="139.68" cy="417.18" r="0.79" fill="#f0d0d4"/>
<circle cx="146.82" cy="417.18" r="1.40" fill="#dda2aa" stroke="#c98e96" stroke-width="0.35"/>
<circle cx="153.98" cy="417.18" r="0.75" fill="#f0d0d4"/>
<circle cx="161.12" cy="417.18" r="0.79" fill="#f0d0d4"/>
<circle cx="168.28" cy="417.18" r="0.75" fill="#f0d0d4"/>
<circle cx="175.43" cy="417.18" r="0.75" fill="#f0d0d4"/>
<circle cx="39.58" cy="424.32" r="0.75" fill="#f0d0d4"/>
<circle cx="46.73" cy="424.32" r="0.79" fill="#f0d0d4"/>
<circle cx="53.88" cy="424.32" r="1.68" fill="#dda2aa" stroke="#c98e96" stroke-width="0.35"/>
<circle cx="61.03" cy="424.32" r="1.40" fill="#dda2aa" stroke="#c98e96" stroke-width="0.35"/>
<circle cx="68.18" cy="424.32" r="0.75" fill="#f0d0d4"/>
<circle cx="75.33" cy="424.32" r="3.10" fill="#c6132b" stroke="#94101f" stroke-width="0.5"/>
<circle cx="82.47" cy="424.32" r="1.68" fill="#dda2aa" stroke="#c98e96" stroke-width="0.35"/>
<circle cx="89.62" cy="424.32" r="1.40" fill="#dda2aa" stroke="#c98e96" stroke-width="0.35"/>
<circle cx="96.78" cy="424.32" r="0.75" fill="#f0d0d4"/>
<circle cx="103.92" cy="424.32" r="1.40" fill="#dda2aa" stroke="#c98e96" stroke-width="0.35"/>
<circle cx="111.08" cy="424.32" r="1.68" fill="#dda2aa" stroke="#c98e96" stroke-width="0.35"/>
<circle cx="118.23" cy="424.32" r="1.68" fill="#dda2aa" stroke="#c98e96" stroke-width="0.35"/>
<circle cx="125.38" cy="424.32" r="1.40" fill="#dda2aa" stroke="#c98e96" stroke-width="0.35"/>
<circle cx="132.53" cy="424.32" r="1.40" fill="#dda2aa" stroke="#c98e96" stroke-width="0.35"/>
<circle cx="139.68" cy="424.32" r="0.75" fill="#f0d0d4"/>
<circle cx="146.82" cy="424.32" r="1.57" fill="#dda2aa" stroke="#c98e96" stroke-width="0.35"/>
<circle cx="153.98" cy="424.32" r="1.57" fill="#dda2aa" stroke="#c98e96" stroke-width="0.35"/>
<circle cx="161.12" cy="424.32" r="1.40" fill="#dda2aa" stroke="#c98e96" stroke-width="0.35"/>
<circle cx="168.28" cy="424.32" r="0.75" fill="#f0d0d4"/>
<circle cx="175.43" cy="424.32" r="1.57" fill="#dda2aa" stroke="#c98e96" stroke-width="0.35"/>
<circle cx="39.58" cy="431.48" r="0.75" fill="#f0d0d4"/>
<circle cx="46.73" cy="431.48" r="1.19" fill="#f0d0d4" stroke="#e2bcc0" stroke-width="0.35"/>
<circle cx="53.88" cy="431.48" r="1.24" fill="#dda2aa" stroke="#c98e96" stroke-width="0.35"/>
<circle cx="61.03" cy="431.48" r="0.75" fill="#f0d0d4"/>
<circle cx="68.18" cy="431.48" r="0.75" fill="#f0d0d4"/>
<circle cx="75.33" cy="431.48" r="1.68" fill="#dda2aa" stroke="#c98e96" stroke-width="0.35"/>
<circle cx="82.47" cy="431.48" r="3.10" fill="#c6132b" stroke="#94101f" stroke-width="0.5"/>
<circle cx="89.62" cy="431.48" r="0.75" fill="#f0d0d4"/>
<circle cx="96.78" cy="431.48" r="0.75" fill="#f0d0d4"/>
<circle cx="103.92" cy="431.48" r="0.79" fill="#f0d0d4"/>
<circle cx="111.08" cy="431.48" r="0.75" fill="#f0d0d4"/>
<circle cx="118.23" cy="431.48" r="1.97" fill="#d27884" stroke="#bc6470" stroke-width="0.35"/>
<circle cx="125.38" cy="431.48" r="0.79" fill="#f0d0d4"/>
<circle cx="132.53" cy="431.48" r="0.75" fill="#f0d0d4"/>
<circle cx="139.68" cy="431.48" r="0.75" fill="#f0d0d4"/>
<circle cx="146.82" cy="431.48" r="0.79" fill="#f0d0d4"/>
<circle cx="153.98" cy="431.48" r="1.40" fill="#dda2aa" stroke="#c98e96" stroke-width="0.35"/>
<circle cx="161.12" cy="431.48" r="1.57" fill="#dda2aa" stroke="#c98e96" stroke-width="0.35"/>
<circle cx="168.28" cy="431.48" r="0.79" fill="#f0d0d4"/>
<circle cx="175.43" cy="431.48" r="1.68" fill="#dda2aa" stroke="#c98e96" stroke-width="0.35"/>
<circle cx="39.58" cy="438.62" r="0.75" fill="#f0d0d4"/>
<circle cx="46.73" cy="438.62" r="1.50" fill="#dda2aa" stroke="#c98e96" stroke-width="0.35"/>
<circle cx="53.88" cy="438.62" r="1.45" fill="#dda2aa" stroke="#c98e96" stroke-width="0.35"/>
<circle cx="61.03" cy="438.62" r="0.75" fill="#f0d0d4"/>
<circle cx="68.18" cy="438.62" r="1.45" fill="#dda2aa" stroke="#c98e96" stroke-width="0.35"/>
<circle cx="75.33" cy="438.62" r="1.40" fill="#dda2aa" stroke="#c98e96" stroke-width="0.35"/>
<circle cx="82.47" cy="438.62" r="0.75" fill="#f0d0d4"/>
<circle cx="89.62" cy="438.62" r="3.10" fill="#c6132b" stroke="#94101f" stroke-width="0.5"/>
<circle cx="96.78" cy="438.62" r="1.40" fill="#dda2aa" stroke="#c98e96" stroke-width="0.35"/>
<circle cx="103.92" cy="438.62" r="0.75" fill="#f0d0d4"/>
<circle cx="111.08" cy="438.62" r="0.75" fill="#f0d0d4"/>
<circle cx="118.23" cy="438.62" r="0.79" fill="#f0d0d4"/>
<circle cx="125.38" cy="438.62" r="1.40" fill="#dda2aa" stroke="#c98e96" stroke-width="0.35"/>
<circle cx="132.53" cy="438.62" r="0.75" fill="#f0d0d4"/>
<circle cx="139.68" cy="438.62" r="0.79" fill="#f0d0d4"/>
<circle cx="146.82" cy="438.62" r="1.40" fill="#dda2aa" stroke="#c98e96" stroke-width="0.35"/>
<circle cx="153.98" cy="438.62" r="0.75" fill="#f0d0d4"/>
<circle cx="161.12" cy="438.62" r="1.40" fill="#dda2aa" stroke="#c98e96" stroke-width="0.35"/>
<circle cx="168.28" cy="438.62" r="1.40" fill="#dda2aa" stroke="#c98e96" stroke-width="0.35"/>
<circle cx="175.43" cy="438.62" r="0.75" fill="#f0d0d4"/>
<circle cx="39.58" cy="445.77" r="1.45" fill="#dda2aa" stroke="#c98e96" stroke-width="0.35"/>
<circle cx="46.73" cy="445.77" r="1.40" fill="#dda2aa" stroke="#c98e96" stroke-width="0.35"/>
<circle cx="53.88" cy="445.77" r="0.75" fill="#f0d0d4"/>
<circle cx="61.03" cy="445.77" r="0.75" fill="#f0d0d4"/>
<circle cx="68.18" cy="445.77" r="0.75" fill="#f0d0d4"/>
<circle cx="75.33" cy="445.77" r="0.75" fill="#f0d0d4"/>
<circle cx="82.47" cy="445.77" r="0.75" fill="#f0d0d4"/>
<circle cx="89.62" cy="445.77" r="1.40" fill="#dda2aa" stroke="#c98e96" stroke-width="0.35"/>
<circle cx="96.78" cy="445.77" r="3.10" fill="#c6132b" stroke="#94101f" stroke-width="0.5"/>
<circle cx="103.92" cy="445.77" r="0.75" fill="#f0d0d4"/>
<circle cx="111.08" cy="445.77" r="0.79" fill="#f0d0d4"/>
<circle cx="118.23" cy="445.77" r="0.75" fill="#f0d0d4"/>
<circle cx="125.38" cy="445.77" r="0.75" fill="#f0d0d4"/>
<circle cx="132.53" cy="445.77" r="0.79" fill="#f0d0d4"/>
<circle cx="139.68" cy="445.77" r="1.40" fill="#dda2aa" stroke="#c98e96" stroke-width="0.35"/>
<circle cx="146.82" cy="445.77" r="0.75" fill="#f0d0d4"/>
<circle cx="153.98" cy="445.77" r="0.79" fill="#f0d0d4"/>
<circle cx="161.12" cy="445.77" r="1.40" fill="#dda2aa" stroke="#c98e96" stroke-width="0.35"/>
<circle cx="168.28" cy="445.77" r="1.40" fill="#9fc0d4" stroke="#88aac0" stroke-width="0.35"/>
<circle cx="175.43" cy="445.77" r="0.79" fill="#f0d0d4"/>
<circle cx="39.58" cy="452.93" r="0.75" fill="#f0d0d4"/>
<circle cx="46.73" cy="452.93" r="1.40" fill="#dda2aa" stroke="#c98e96" stroke-width="0.35"/>
<circle cx="53.88" cy="452.93" r="1.40" fill="#dda2aa" stroke="#c98e96" stroke-width="0.35"/>
<circle cx="61.03" cy="452.93" r="0.79" fill="#f0d0d4"/>
<circle cx="68.18" cy="452.93" r="1.19" fill="#f0d0d4" stroke="#e2bcc0" stroke-width="0.35"/>
<circle cx="75.33" cy="452.93" r="1.40" fill="#dda2aa" stroke="#c98e96" stroke-width="0.35"/>
<circle cx="82.47" cy="452.93" r="0.79" fill="#f0d0d4"/>
<circle cx="89.62" cy="452.93" r="0.75" fill="#f0d0d4"/>
<circle cx="96.78" cy="452.93" r="0.75" fill="#f0d0d4"/>
<circle cx="103.92" cy="452.93" r="3.10" fill="#c6132b" stroke="#94101f" stroke-width="0.5"/>
<circle cx="111.08" cy="452.93" r="0.75" fill="#f0d0d4"/>
<circle cx="118.23" cy="452.93" r="0.75" fill="#f0d0d4"/>
<circle cx="125.38" cy="452.93" r="1.40" fill="#dda2aa" stroke="#c98e96" stroke-width="0.35"/>
<circle cx="132.53" cy="452.93" r="0.75" fill="#f0d0d4"/>
<circle cx="139.68" cy="452.93" r="0.75" fill="#f0d0d4"/>
<circle cx="146.82" cy="452.93" r="1.40" fill="#dda2aa" stroke="#c98e96" stroke-width="0.35"/>
<circle cx="153.98" cy="452.93" r="0.75" fill="#f0d0d4"/>
<circle cx="161.12" cy="452.93" r="0.75" fill="#f0d0d4"/>
<circle cx="168.28" cy="452.93" r="0.79" fill="#f0d0d4"/>
<circle cx="175.43" cy="452.93" r="0.75" fill="#f0d0d4"/>
<circle cx="39.58" cy="460.07" r="0.75" fill="#f0d0d4"/>
<circle cx="46.73" cy="460.07" r="0.75" fill="#f0d0d4"/>
<circle cx="53.88" cy="460.07" r="1.78" fill="#d27884" stroke="#bc6470" stroke-width="0.35"/>
<circle cx="61.03" cy="460.07" r="1.45" fill="#dda2aa" stroke="#c98e96" stroke-width="0.35"/>
<circle cx="68.18" cy="460.07" r="0.75" fill="#f0d0d4"/>
<circle cx="75.33" cy="460.07" r="1.68" fill="#dda2aa" stroke="#c98e96" stroke-width="0.35"/>
<circle cx="82.47" cy="460.07" r="0.75" fill="#f0d0d4"/>
<circle cx="89.62" cy="460.07" r="0.75" fill="#f0d0d4"/>
<circle cx="96.78" cy="460.07" r="0.79" fill="#f0d0d4"/>
<circle cx="103.92" cy="460.07" r="0.75" fill="#f0d0d4"/>
<circle cx="111.08" cy="460.07" r="3.10" fill="#c6132b" stroke="#94101f" stroke-width="0.5"/>
<circle cx="118.23" cy="460.07" r="0.75" fill="#f0d0d4"/>
<circle cx="125.38" cy="460.07" r="1.57" fill="#dda2aa" stroke="#c98e96" stroke-width="0.35"/>
<circle cx="132.53" cy="460.07" r="1.40" fill="#dda2aa" stroke="#c98e96" stroke-width="0.35"/>
<circle cx="139.68" cy="460.07" r="0.79" fill="#f0d0d4"/>
<circle cx="146.82" cy="460.07" r="1.57" fill="#dda2aa" stroke="#c98e96" stroke-width="0.35"/>
<circle cx="153.98" cy="460.07" r="0.75" fill="#f0d0d4"/>
<circle cx="161.12" cy="460.07" r="0.79" fill="#f0d0d4"/>
<circle cx="168.28" cy="460.07" r="1.03" fill="#cfe0ea" stroke="#b8ccd8" stroke-width="0.35"/>
<circle cx="175.43" cy="460.07" r="0.75" fill="#f0d0d4"/>
<circle cx="39.58" cy="467.23" r="0.75" fill="#f0d0d4"/>
<circle cx="46.73" cy="467.23" r="1.19" fill="#f0d0d4" stroke="#e2bcc0" stroke-width="0.35"/>
<circle cx="53.88" cy="467.23" r="1.45" fill="#dda2aa" stroke="#c98e96" stroke-width="0.35"/>
<circle cx="61.03" cy="467.23" r="0.75" fill="#f0d0d4"/>
<circle cx="68.18" cy="467.23" r="0.79" fill="#f0d0d4"/>
<circle cx="75.33" cy="467.23" r="1.68" fill="#dda2aa" stroke="#c98e96" stroke-width="0.35"/>
<circle cx="82.47" cy="467.23" r="1.97" fill="#d27884" stroke="#bc6470" stroke-width="0.35"/>
<circle cx="89.62" cy="467.23" r="0.79" fill="#f0d0d4"/>
<circle cx="96.78" cy="467.23" r="0.75" fill="#f0d0d4"/>
<circle cx="103.92" cy="467.23" r="0.75" fill="#f0d0d4"/>
<circle cx="111.08" cy="467.23" r="0.75" fill="#f0d0d4"/>
<circle cx="118.23" cy="467.23" r="3.10" fill="#c6132b" stroke="#94101f" stroke-width="0.5"/>
<circle cx="125.38" cy="467.23" r="0.75" fill="#f0d0d4"/>
<circle cx="132.53" cy="467.23" r="1.40" fill="#dda2aa" stroke="#c98e96" stroke-width="0.35"/>
<circle cx="139.68" cy="467.23" r="0.75" fill="#f0d0d4"/>
<circle cx="146.82" cy="467.23" r="0.75" fill="#f0d0d4"/>
<circle cx="153.98" cy="467.23" r="0.79" fill="#f0d0d4"/>
<circle cx="161.12" cy="467.23" r="0.75" fill="#f0d0d4"/>
<circle cx="168.28" cy="467.23" r="0.75" fill="#f0d0d4"/>
<circle cx="175.43" cy="467.23" r="1.40" fill="#dda2aa" stroke="#c98e96" stroke-width="0.35"/>
<circle cx="39.58" cy="474.38" r="0.75" fill="#f0d0d4"/>
<circle cx="46.73" cy="474.38" r="1.40" fill="#dda2aa" stroke="#c98e96" stroke-width="0.35"/>
<circle cx="53.88" cy="474.38" r="1.78" fill="#d27884" stroke="#bc6470" stroke-width="0.35"/>
<circle cx="61.03" cy="474.38" r="1.40" fill="#dda2aa" stroke="#c98e96" stroke-width="0.35"/>
<circle cx="68.18" cy="474.38" r="1.40" fill="#dda2aa" stroke="#c98e96" stroke-width="0.35"/>
<circle cx="75.33" cy="474.38" r="1.40" fill="#dda2aa" stroke="#c98e96" stroke-width="0.35"/>
<circle cx="82.47" cy="474.38" r="0.79" fill="#f0d0d4"/>
<circle cx="89.62" cy="474.38" r="1.40" fill="#dda2aa" stroke="#c98e96" stroke-width="0.35"/>
<circle cx="96.78" cy="474.38" r="0.75" fill="#f0d0d4"/>
<circle cx="103.92" cy="474.38" r="1.40" fill="#dda2aa" stroke="#c98e96" stroke-width="0.35"/>
<circle cx="111.08" cy="474.38" r="1.57" fill="#dda2aa" stroke="#c98e96" stroke-width="0.35"/>
<circle cx="118.23" cy="474.38" r="0.75" fill="#f0d0d4"/>
<circle cx="125.38" cy="474.38" r="3.10" fill="#c6132b" stroke="#94101f" stroke-width="0.5"/>
<circle cx="132.53" cy="474.38" r="0.75" fill="#f0d0d4"/>
<circle cx="139.68" cy="474.38" r="0.75" fill="#f0d0d4"/>
<circle cx="146.82" cy="474.38" r="1.40" fill="#dda2aa" stroke="#c98e96" stroke-width="0.35"/>
<circle cx="153.98" cy="474.38" r="0.75" fill="#f0d0d4"/>
<circle cx="161.12" cy="474.38" r="0.75" fill="#f0d0d4"/>
<circle cx="168.28" cy="474.38" r="0.79" fill="#f0d0d4"/>
<circle cx="175.43" cy="474.38" r="0.75" fill="#f0d0d4"/>
<circle cx="39.58" cy="481.52" r="1.45" fill="#9fc0d4" stroke="#88aac0" stroke-width="0.35"/>
<circle cx="46.73" cy="481.52" r="0.75" fill="#f0d0d4"/>
<circle cx="53.88" cy="481.52" r="1.40" fill="#dda2aa" stroke="#c98e96" stroke-width="0.35"/>
<circle cx="61.03" cy="481.52" r="0.84" fill="#cfe0ea"/>
<circle cx="68.18" cy="481.52" r="0.75" fill="#f0d0d4"/>
<circle cx="75.33" cy="481.52" r="1.40" fill="#dda2aa" stroke="#c98e96" stroke-width="0.35"/>
<circle cx="82.47" cy="481.52" r="0.75" fill="#f0d0d4"/>
<circle cx="89.62" cy="481.52" r="0.75" fill="#f0d0d4"/>
<circle cx="96.78" cy="481.52" r="0.79" fill="#f0d0d4"/>
<circle cx="103.92" cy="481.52" r="0.75" fill="#f0d0d4"/>
<circle cx="111.08" cy="481.52" r="1.40" fill="#dda2aa" stroke="#c98e96" stroke-width="0.35"/>
<circle cx="118.23" cy="481.52" r="1.40" fill="#dda2aa" stroke="#c98e96" stroke-width="0.35"/>
<circle cx="125.38" cy="481.52" r="0.75" fill="#f0d0d4"/>
<circle cx="132.53" cy="481.52" r="3.10" fill="#c6132b" stroke="#94101f" stroke-width="0.5"/>
<circle cx="139.68" cy="481.52" r="1.45" fill="#9fc0d4" stroke="#88aac0" stroke-width="0.35"/>
<circle cx="146.82" cy="481.52" r="0.75" fill="#f0d0d4"/>
<circle cx="153.98" cy="481.52" r="0.75" fill="#f0d0d4"/>
<circle cx="161.12" cy="481.52" r="0.79" fill="#f0d0d4"/>
<circle cx="168.28" cy="481.52" r="0.75" fill="#f0d0d4"/>
<circle cx="175.43" cy="481.52" r="1.40" fill="#dda2aa" stroke="#c98e96" stroke-width="0.35"/>
<circle cx="39.58" cy="488.68" r="1.78" fill="#d27884" stroke="#bc6470" stroke-width="0.35"/>
<circle cx="46.73" cy="488.68" r="1.57" fill="#dda2aa" stroke="#c98e96" stroke-width="0.35"/>
<circle cx="53.88" cy="488.68" r="0.75" fill="#f0d0d4"/>
<circle cx="61.03" cy="488.68" r="1.78" fill="#d27884" stroke="#bc6470" stroke-width="0.35"/>
<circle cx="68.18" cy="488.68" r="0.79" fill="#f0d0d4"/>
<circle cx="75.33" cy="488.68" r="0.75" fill="#f0d0d4"/>
<circle cx="82.47" cy="488.68" r="0.75" fill="#f0d0d4"/>
<circle cx="89.62" cy="488.68" r="0.79" fill="#f0d0d4"/>
<circle cx="96.78" cy="488.68" r="1.40" fill="#dda2aa" stroke="#c98e96" stroke-width="0.35"/>
<circle cx="103.92" cy="488.68" r="0.75" fill="#f0d0d4"/>
<circle cx="111.08" cy="488.68" r="0.79" fill="#f0d0d4"/>
<circle cx="118.23" cy="488.68" r="0.75" fill="#f0d0d4"/>
<circle cx="125.38" cy="488.68" r="0.75" fill="#f0d0d4"/>
<circle cx="132.53" cy="488.68" r="1.45" fill="#9fc0d4" stroke="#88aac0" stroke-width="0.35"/>
<circle cx="139.68" cy="488.68" r="3.10" fill="#c6132b" stroke="#94101f" stroke-width="0.5"/>
<circle cx="146.82" cy="488.68" r="1.87" fill="#d27884" stroke="#bc6470" stroke-width="0.35"/>
<circle cx="153.98" cy="488.68" r="1.45" fill="#dda2aa" stroke="#c98e96" stroke-width="0.35"/>
<circle cx="161.12" cy="488.68" r="0.75" fill="#f0d0d4"/>
<circle cx="168.28" cy="488.68" r="0.75" fill="#f0d0d4"/>
<circle cx="175.43" cy="488.68" r="0.79" fill="#f0d0d4"/>
<circle cx="39.58" cy="495.82" r="1.57" fill="#dda2aa" stroke="#c98e96" stroke-width="0.35"/>
<circle cx="46.73" cy="495.82" r="1.45" fill="#dda2aa" stroke="#c98e96" stroke-width="0.35"/>
<circle cx="53.88" cy="495.82" r="1.68" fill="#dda2aa" stroke="#c98e96" stroke-width="0.35"/>
<circle cx="61.03" cy="495.82" r="1.40" fill="#dda2aa" stroke="#c98e96" stroke-width="0.35"/>
<circle cx="68.18" cy="495.82" r="1.40" fill="#dda2aa" stroke="#c98e96" stroke-width="0.35"/>
<circle cx="75.33" cy="495.82" r="1.57" fill="#dda2aa" stroke="#c98e96" stroke-width="0.35"/>
<circle cx="82.47" cy="495.82" r="0.79" fill="#f0d0d4"/>
<circle cx="89.62" cy="495.82" r="1.40" fill="#dda2aa" stroke="#c98e96" stroke-width="0.35"/>
<circle cx="96.78" cy="495.82" r="0.75" fill="#f0d0d4"/>
<circle cx="103.92" cy="495.82" r="1.40" fill="#dda2aa" stroke="#c98e96" stroke-width="0.35"/>
<circle cx="111.08" cy="495.82" r="1.57" fill="#dda2aa" stroke="#c98e96" stroke-width="0.35"/>
<circle cx="118.23" cy="495.82" r="0.75" fill="#f0d0d4"/>
<circle cx="125.38" cy="495.82" r="1.40" fill="#dda2aa" stroke="#c98e96" stroke-width="0.35"/>
<circle cx="132.53" cy="495.82" r="0.75" fill="#f0d0d4"/>
<circle cx="139.68" cy="495.82" r="1.87" fill="#d27884" stroke="#bc6470" stroke-width="0.35"/>
<circle cx="146.82" cy="495.82" r="3.10" fill="#c6132b" stroke="#94101f" stroke-width="0.5"/>
<circle cx="153.98" cy="495.82" r="1.40" fill="#dda2aa" stroke="#c98e96" stroke-width="0.35"/>
<circle cx="161.12" cy="495.82" r="0.75" fill="#f0d0d4"/>
<circle cx="168.28" cy="495.82" r="0.79" fill="#f0d0d4"/>
<circle cx="175.43" cy="495.82" r="0.75" fill="#f0d0d4"/>
<circle cx="39.58" cy="502.98" r="1.40" fill="#dda2aa" stroke="#c98e96" stroke-width="0.35"/>
<circle cx="46.73" cy="502.98" r="0.75" fill="#f0d0d4"/>
<circle cx="53.88" cy="502.98" r="1.19" fill="#f0d0d4" stroke="#e2bcc0" stroke-width="0.35"/>
<circle cx="61.03" cy="502.98" r="1.57" fill="#dda2aa" stroke="#c98e96" stroke-width="0.35"/>
<circle cx="68.18" cy="502.98" r="0.75" fill="#f0d0d4"/>
<circle cx="75.33" cy="502.98" r="1.57" fill="#dda2aa" stroke="#c98e96" stroke-width="0.35"/>
<circle cx="82.47" cy="502.98" r="1.40" fill="#dda2aa" stroke="#c98e96" stroke-width="0.35"/>
<circle cx="89.62" cy="502.98" r="0.75" fill="#f0d0d4"/>
<circle cx="96.78" cy="502.98" r="0.79" fill="#f0d0d4"/>
<circle cx="103.92" cy="502.98" r="0.75" fill="#f0d0d4"/>
<circle cx="111.08" cy="502.98" r="0.75" fill="#f0d0d4"/>
<circle cx="118.23" cy="502.98" r="0.79" fill="#f0d0d4"/>
<circle cx="125.38" cy="502.98" r="0.75" fill="#f0d0d4"/>
<circle cx="132.53" cy="502.98" r="0.75" fill="#f0d0d4"/>
<circle cx="139.68" cy="502.98" r="1.45" fill="#dda2aa" stroke="#c98e96" stroke-width="0.35"/>
<circle cx="146.82" cy="502.98" r="1.40" fill="#dda2aa" stroke="#c98e96" stroke-width="0.35"/>
<circle cx="153.98" cy="502.98" r="3.10" fill="#c6132b" stroke="#94101f" stroke-width="0.5"/>
<circle cx="161.12" cy="502.98" r="1.72" fill="#d27884" stroke="#bc6470" stroke-width="0.35"/>
<circle cx="168.28" cy="502.98" r="1.40" fill="#dda2aa" stroke="#c98e96" stroke-width="0.35"/>
<circle cx="175.43" cy="502.98" r="1.40" fill="#dda2aa" stroke="#c98e96" stroke-width="0.35"/>
<circle cx="39.58" cy="510.12" r="1.45" fill="#dda2aa" stroke="#c98e96" stroke-width="0.35"/>
<circle cx="46.73" cy="510.12" r="0.79" fill="#f0d0d4"/>
<circle cx="53.88" cy="510.12" r="0.75" fill="#f0d0d4"/>
<circle cx="61.03" cy="510.12" r="0.75" fill="#f0d0d4"/>
<circle cx="68.18" cy="510.12" r="0.79" fill="#f0d0d4"/>
<circle cx="75.33" cy="510.12" r="1.40" fill="#dda2aa" stroke="#c98e96" stroke-width="0.35"/>
<circle cx="82.47" cy="510.12" r="1.57" fill="#dda2aa" stroke="#c98e96" stroke-width="0.35"/>
<circle cx="89.62" cy="510.12" r="1.40" fill="#dda2aa" stroke="#c98e96" stroke-width="0.35"/>
<circle cx="96.78" cy="510.12" r="1.40" fill="#dda2aa" stroke="#c98e96" stroke-width="0.35"/>
<circle cx="103.92" cy="510.12" r="0.75" fill="#f0d0d4"/>
<circle cx="111.08" cy="510.12" r="0.79" fill="#f0d0d4"/>
<circle cx="118.23" cy="510.12" r="0.75" fill="#f0d0d4"/>
<circle cx="125.38" cy="510.12" r="0.75" fill="#f0d0d4"/>
<circle cx="132.53" cy="510.12" r="0.79" fill="#f0d0d4"/>
<circle cx="139.68" cy="510.12" r="0.75" fill="#f0d0d4"/>
<circle cx="146.82" cy="510.12" r="0.75" fill="#f0d0d4"/>
<circle cx="153.98" cy="510.12" r="1.72" fill="#d27884" stroke="#bc6470" stroke-width="0.35"/>
<circle cx="161.12" cy="510.12" r="3.10" fill="#c6132b" stroke="#94101f" stroke-width="0.5"/>
<circle cx="168.28" cy="510.12" r="1.63" fill="#dda2aa" stroke="#c98e96" stroke-width="0.35"/>
<circle cx="175.43" cy="510.12" r="1.40" fill="#dda2aa" stroke="#c98e96" stroke-width="0.35"/>
<circle cx="39.58" cy="517.27" r="0.79" fill="#f0d0d4"/>
<circle cx="46.73" cy="517.27" r="0.75" fill="#f0d0d4"/>
<circle cx="53.88" cy="517.27" r="0.75" fill="#f0d0d4"/>
<circle cx="61.03" cy="517.27" r="0.79" fill="#f0d0d4"/>
<circle cx="68.18" cy="517.27" r="0.75" fill="#f0d0d4"/>
<circle cx="75.33" cy="517.27" r="0.75" fill="#f0d0d4"/>
<circle cx="82.47" cy="517.27" r="0.79" fill="#f0d0d4"/>
<circle cx="89.62" cy="517.27" r="1.40" fill="#dda2aa" stroke="#c98e96" stroke-width="0.35"/>
<circle cx="96.78" cy="517.27" r="1.40" fill="#9fc0d4" stroke="#88aac0" stroke-width="0.35"/>
<circle cx="103.92" cy="517.27" r="0.79" fill="#f0d0d4"/>
<circle cx="111.08" cy="517.27" r="1.03" fill="#cfe0ea" stroke="#b8ccd8" stroke-width="0.35"/>
<circle cx="118.23" cy="517.27" r="0.75" fill="#f0d0d4"/>
<circle cx="125.38" cy="517.27" r="0.79" fill="#f0d0d4"/>
<circle cx="132.53" cy="517.27" r="0.75" fill="#f0d0d4"/>
<circle cx="139.68" cy="517.27" r="0.75" fill="#f0d0d4"/>
<circle cx="146.82" cy="517.27" r="0.79" fill="#f0d0d4"/>
<circle cx="153.98" cy="517.27" r="1.40" fill="#dda2aa" stroke="#c98e96" stroke-width="0.35"/>
<circle cx="161.12" cy="517.27" r="1.63" fill="#dda2aa" stroke="#c98e96" stroke-width="0.35"/>
<circle cx="168.28" cy="517.27" r="3.10" fill="#c6132b" stroke="#94101f" stroke-width="0.5"/>
<circle cx="175.43" cy="517.27" r="1.40" fill="#dda2aa" stroke="#c98e96" stroke-width="0.35"/>
<circle cx="39.58" cy="524.42" r="1.40" fill="#dda2aa" stroke="#c98e96" stroke-width="0.35"/>
<circle cx="46.73" cy="524.42" r="0.75" fill="#f0d0d4"/>
<circle cx="53.88" cy="524.42" r="1.40" fill="#dda2aa" stroke="#c98e96" stroke-width="0.35"/>
<circle cx="61.03" cy="524.42" r="0.75" fill="#f0d0d4"/>
<circle cx="68.18" cy="524.42" r="0.75" fill="#f0d0d4"/>
<circle cx="75.33" cy="524.42" r="1.57" fill="#dda2aa" stroke="#c98e96" stroke-width="0.35"/>
<circle cx="82.47" cy="524.42" r="1.68" fill="#dda2aa" stroke="#c98e96" stroke-width="0.35"/>
<circle cx="89.62" cy="524.42" r="0.75" fill="#f0d0d4"/>
<circle cx="96.78" cy="524.42" r="0.79" fill="#f0d0d4"/>
<circle cx="103.92" cy="524.42" r="0.75" fill="#f0d0d4"/>
<circle cx="111.08" cy="524.42" r="0.75" fill="#f0d0d4"/>
<circle cx="118.23" cy="524.42" r="1.40" fill="#dda2aa" stroke="#c98e96" stroke-width="0.35"/>
<circle cx="125.38" cy="524.42" r="0.75" fill="#f0d0d4"/>
<circle cx="132.53" cy="524.42" r="1.40" fill="#dda2aa" stroke="#c98e96" stroke-width="0.35"/>
<circle cx="139.68" cy="524.42" r="0.79" fill="#f0d0d4"/>
<circle cx="146.82" cy="524.42" r="0.75" fill="#f0d0d4"/>
<circle cx="153.98" cy="524.42" r="1.40" fill="#dda2aa" stroke="#c98e96" stroke-width="0.35"/>
<circle cx="161.12" cy="524.42" r="1.40" fill="#dda2aa" stroke="#c98e96" stroke-width="0.35"/>
<circle cx="168.28" cy="524.42" r="1.40" fill="#dda2aa" stroke="#c98e96" stroke-width="0.35"/>
<circle cx="175.43" cy="524.42" r="3.10" fill="#c6132b" stroke="#94101f" stroke-width="0.5"/>
<rect x="36.00" y="385.00" width="143.00" height="143.00" fill="none" stroke="#222" stroke-width="1.0"/>
<text x="32.60" y="390.77" font-size="6.1" text-anchor="end" stroke="#1c1c1c" stroke-width="0.100" font-style="italic">PRPF19</text>
<text x="41.66" y="381.50" font-size="5.8" stroke="#1c1c1c" stroke-width="0.100" font-style="italic" transform="rotate(-90 41.66 381.50)">PRPF19</text>
<text x="32.60" y="397.92" font-size="6.1" text-anchor="end" stroke="#1c1c1c" stroke-width="0.100" font-style="italic">METTL3</text>
<text x="48.81" y="381.50" font-size="5.8" stroke="#1c1c1c" stroke-width="0.100" font-style="italic" transform="rotate(-90 48.81 381.50)">METTL3</text>
<text x="32.60" y="405.07" font-size="6.1" text-anchor="end" stroke="#1c1c1c" stroke-width="0.100" font-style="italic">METTL14</text>
<text x="55.96" y="381.50" font-size="5.8" stroke="#1c1c1c" stroke-width="0.100" font-style="italic" transform="rotate(-90 55.96 381.50)">METTL14</text>
<text x="32.60" y="412.22" font-size="6.1" text-anchor="end" stroke="#1c1c1c" stroke-width="0.100" font-style="italic">WTAP</text>
<text x="63.11" y="381.50" font-size="5.8" stroke="#1c1c1c" stroke-width="0.100" font-style="italic" transform="rotate(-90 63.11 381.50)">WTAP</text>
<text x="32.60" y="419.37" font-size="6.1" text-anchor="end" stroke="#1c1c1c" stroke-width="0.100" font-style="italic">ZC3H13</text>
<text x="70.26" y="381.50" font-size="5.8" stroke="#1c1c1c" stroke-width="0.100" font-style="italic" transform="rotate(-90 70.26 381.50)">ZC3H13</text>
<text x="32.60" y="426.52" font-size="6.1" text-anchor="end" stroke="#1c1c1c" stroke-width="0.100" font-style="italic">RBM15</text>
<text x="77.41" y="381.50" font-size="5.8" stroke="#1c1c1c" stroke-width="0.100" font-style="italic" transform="rotate(-90 77.41 381.50)">RBM15</text>
<text x="32.60" y="433.67" font-size="6.1" text-anchor="end" stroke="#1c1c1c" stroke-width="0.100" font-style="italic">VIRMA</text>
<text x="84.56" y="381.50" font-size="5.8" stroke="#1c1c1c" stroke-width="0.100" font-style="italic" transform="rotate(-90 84.56 381.50)">VIRMA</text>
<text x="32.60" y="440.82" font-size="6.1" text-anchor="end" stroke="#1c1c1c" stroke-width="0.100" font-style="italic">FTO</text>
<text x="91.71" y="381.50" font-size="5.8" stroke="#1c1c1c" stroke-width="0.100" font-style="italic" transform="rotate(-90 91.71 381.50)">FTO</text>
<text x="32.60" y="448.33" font-size="7.1" text-anchor="end" fill="#d81e30" font-style="italic" font-weight="bold">ALKBH5</text>
<text x="99.19" y="381.50" font-size="6.7" fill="#d81e30" font-style="italic" font-weight="bold" transform="rotate(-90 99.19 381.50)">ALKBH5</text>
<text x="32.60" y="455.12" font-size="6.1" text-anchor="end" stroke="#1c1c1c" stroke-width="0.100" font-style="italic">YTHDF1</text>
<text x="106.01" y="381.50" font-size="5.8" stroke="#1c1c1c" stroke-width="0.100" font-style="italic" transform="rotate(-90 106.01 381.50)">YTHDF1</text>
<text x="32.60" y="462.27" font-size="6.1" text-anchor="end" stroke="#1c1c1c" stroke-width="0.100" font-style="italic">YTHDF2</text>
<text x="113.16" y="381.50" font-size="5.8" stroke="#1c1c1c" stroke-width="0.100" font-style="italic" transform="rotate(-90 113.16 381.50)">YTHDF2</text>
<text x="32.60" y="469.42" font-size="6.1" text-anchor="end" stroke="#1c1c1c" stroke-width="0.100" font-style="italic">YTHDF3</text>
<text x="120.31" y="381.50" font-size="5.8" stroke="#1c1c1c" stroke-width="0.100" font-style="italic" transform="rotate(-90 120.31 381.50)">YTHDF3</text>
<text x="32.60" y="476.57" font-size="6.1" text-anchor="end" stroke="#1c1c1c" stroke-width="0.100" font-style="italic">YTHDC1</text>
<text x="127.46" y="381.50" font-size="5.8" stroke="#1c1c1c" stroke-width="0.100" font-style="italic" transform="rotate(-90 127.46 381.50)">YTHDC1</text>
<text x="32.60" y="484.08" font-size="7.1" text-anchor="end" fill="#d81e30" font-style="italic" font-weight="bold">YTHDC2</text>
<text x="134.94" y="381.50" font-size="6.7" fill="#d81e30" font-style="italic" font-weight="bold" transform="rotate(-90 134.94 381.50)">YTHDC2</text>
<text x="32.60" y="490.87" font-size="6.1" text-anchor="end" fill="#e04050" stroke="#e04050" stroke-width="0.100" font-style="italic">HNRNPC</text>
<text x="141.76" y="381.50" font-size="5.8" fill="#e04050" stroke="#e04050" stroke-width="0.100" font-style="italic" transform="rotate(-90 141.76 381.50)">HNRNPC</text>
<text x="32.60" y="498.02" font-size="6.1" text-anchor="end" fill="#e04050" stroke="#e04050" stroke-width="0.100" font-style="italic">RBMX</text>
<text x="148.91" y="381.50" font-size="5.8" fill="#e04050" stroke="#e04050" stroke-width="0.100" font-style="italic" transform="rotate(-90 148.91 381.50)">RBMX</text>
<text x="32.60" y="505.17" font-size="6.1" text-anchor="end" fill="#e04050" stroke="#e04050" stroke-width="0.100" font-style="italic">IGF2BP1</text>
<text x="156.06" y="381.50" font-size="5.8" fill="#e04050" stroke="#e04050" stroke-width="0.100" font-style="italic" transform="rotate(-90 156.06 381.50)">IGF2BP1</text>
<text x="32.60" y="512.32" font-size="6.1" text-anchor="end" fill="#e04050" stroke="#e04050" stroke-width="0.100" font-style="italic">IGF2BP2</text>
<text x="163.21" y="381.50" font-size="5.8" fill="#e04050" stroke="#e04050" stroke-width="0.100" font-style="italic" transform="rotate(-90 163.21 381.50)">IGF2BP2</text>
<text x="32.60" y="519.47" font-size="6.1" text-anchor="end" stroke="#1c1c1c" stroke-width="0.100" font-style="italic">IGF2BP3</text>
<text x="170.36" y="381.50" font-size="5.8" stroke="#1c1c1c" stroke-width="0.100" font-style="italic" transform="rotate(-90 170.36 381.50)">IGF2BP3</text>
<text x="32.60" y="526.62" font-size="6.1" text-anchor="end" fill="#e04050" stroke="#e04050" stroke-width="0.100" font-style="italic">EIF3A</text>
<text x="177.51" y="381.50" font-size="5.8" fill="#e04050" stroke="#e04050" stroke-width="0.100" font-style="italic" transform="rotate(-90 177.51 381.50)">EIF3A</text>
<text x="63.50" y="348.80" font-size="6.8" text-anchor="middle" stroke="#1c1c1c" stroke-width="0.218">Writer</text>
<line x1="38.50" y1="351.30" x2="82.70" y2="351.30" stroke="#333" stroke-width="0.8"/>
<text x="91.50" y="348.60" font-size="6.8" text-anchor="middle" stroke="#1c1c1c" stroke-width="0.218">Eraser</text>
<line x1="86.30" y1="350.40" x2="100.10" y2="350.40" stroke="#333" stroke-width="0.8"/>
<text x="131.00" y="348.60" font-size="6.8" text-anchor="middle" stroke="#1c1c1c" stroke-width="0.218">Reader</text>
<line x1="102.20" y1="350.40" x2="175.20" y2="350.40" stroke="#333" stroke-width="0.8"/>
<rect x="181.00" y="384.90" width="5.60" height="14.49" fill="#c0192e"/>
<rect x="181.00" y="399.19" width="5.60" height="14.49" fill="#d4454a"/>
<rect x="181.00" y="413.48" width="5.60" height="14.49" fill="#e67a74"/>
<rect x="181.00" y="427.77" width="5.60" height="14.49" fill="#f5b0aa"/>
<rect x="181.00" y="442.06" width="5.60" height="14.49" fill="#fbe3e2"/>
<rect x="181.00" y="456.35" width="5.60" height="14.49" fill="#d4e6ef"/>
<rect x="181.00" y="470.64" width="5.60" height="14.49" fill="#8fbad2"/>
<rect x="181.00" y="484.93" width="5.60" height="14.49" fill="#4a8ab2"/>
<rect x="181.00" y="499.22" width="5.60" height="14.49" fill="#1f6a96"/>
<rect x="181.00" y="513.51" width="5.60" height="14.49" fill="#0d4a70"/>
<rect x="181.0" y="384.9" width="5.6" height="142.90" fill="none" stroke="#333" stroke-width="0.6"/>
<text x="190.80" y="386.70" font-size="5.0" stroke="#1c1c1c" stroke-width="0.100">1</text>
<text x="190.80" y="400.99" font-size="5.0" stroke="#1c1c1c" stroke-width="0.100">0.8</text>
<text x="190.80" y="415.28" font-size="5.0" stroke="#1c1c1c" stroke-width="0.100">0.6</text>
<text x="190.80" y="429.57" font-size="5.0" stroke="#1c1c1c" stroke-width="0.100">0.4</text>
<text x="190.80" y="443.86" font-size="5.0" stroke="#1c1c1c" stroke-width="0.100">0.2</text>
<text x="190.80" y="458.15" font-size="5.0" stroke="#1c1c1c" stroke-width="0.100">0</text>
<text x="189.40" y="472.44" font-size="5.0" stroke="#1c1c1c" stroke-width="0.100">−0.2</text>
<text x="189.40" y="486.73" font-size="5.0" stroke="#1c1c1c" stroke-width="0.100">−0.4</text>
<text x="189.40" y="501.02" font-size="5.0" stroke="#1c1c1c" stroke-width="0.100">−0.6</text>
<text x="189.40" y="515.31" font-size="5.0" stroke="#1c1c1c" stroke-width="0.100">−0.8</text>
<text x="189.40" y="529.60" font-size="5.0" stroke="#1c1c1c" stroke-width="0.100">−1</text>
<text x="210.06" y="381.50" font-size="12.5" fill="#000" font-weight="bold">L</text>
<rect x="233.90" y="406.00" width="8.92" height="9.05" fill="#e37f82"/>
<rect x="242.77" y="406.00" width="8.92" height="9.05" fill="#e37f82"/>
<rect x="251.64" y="406.00" width="8.92" height="9.05" fill="#e37f82"/>
<rect x="260.51" y="406.00" width="8.92" height="9.05" fill="#7fa6c0"/>
<rect x="269.38" y="406.00" width="8.92" height="9.05" fill="#6f9bb8"/>
<rect x="278.25" y="406.00" width="8.92" height="9.05" fill="#7aa2bd"/>
<rect x="233.90" y="415.00" width="8.92" height="9.05" fill="#eeaaaa"/>
<rect x="242.77" y="415.00" width="8.92" height="9.05" fill="#7fa6c0"/>
<rect x="251.64" y="415.00" width="8.92" height="9.05" fill="#146893"/>
<rect x="260.51" y="415.00" width="8.92" height="9.05" fill="#e6eef4"/>
<rect x="269.38" y="415.00" width="8.92" height="9.05" fill="#e36c6e"/>
<rect x="278.25" y="415.00" width="8.92" height="9.05" fill="#eea3a3"/>
<rect x="233.90" y="424.00" width="8.92" height="9.05" fill="#f7e5e5"/>
<rect x="242.77" y="424.00" width="8.92" height="9.05" fill="#e47a7b"/>
<rect x="251.64" y="424.00" width="8.92" height="9.05" fill="#e47a7b"/>
<rect x="260.51" y="424.00" width="8.92" height="9.05" fill="#2a7599"/>
<rect x="269.38" y="424.00" width="8.92" height="9.05" fill="#5c8fb0"/>
<rect x="278.25" y="424.00" width="8.92" height="9.05" fill="#f5e0e0"/>
<rect x="233.90" y="433.00" width="8.92" height="9.05" fill="#e05055"/>
<rect x="242.77" y="433.00" width="8.92" height="9.05" fill="#f8f8f8"/>
<rect x="251.64" y="433.00" width="8.92" height="9.05" fill="#e14c50"/>
<rect x="260.51" y="433.00" width="8.92" height="9.05" fill="#80a8c2"/>
<rect x="269.38" y="433.00" width="8.92" height="9.05" fill="#8fb3ca"/>
<rect x="278.25" y="433.00" width="8.92" height="9.05" fill="#80a8c2"/>
<rect x="233.90" y="442.00" width="8.92" height="9.05" fill="#d42030"/>
<rect x="242.77" y="442.00" width="8.92" height="9.05" fill="#f5dcdc"/>
<rect x="251.64" y="442.00" width="8.92" height="9.05" fill="#f3d6d6"/>
<rect x="260.51" y="442.00" width="8.92" height="9.05" fill="#e0ebf2"/>
<rect x="269.38" y="442.00" width="8.92" height="9.05" fill="#b0cadb"/>
<rect x="278.25" y="442.00" width="8.92" height="9.05" fill="#1f6e96"/>
<rect x="233.90" y="451.00" width="8.92" height="9.05" fill="#e37f80"/>
<rect x="242.77" y="451.00" width="8.92" height="9.05" fill="#fbfbfb"/>
<rect x="251.64" y="451.00" width="8.92" height="9.05" fill="#eb9a9a"/>
<rect x="260.51" y="451.00" width="8.92" height="9.05" fill="#0c5583"/>
<rect x="269.38" y="451.00" width="8.92" height="9.05" fill="#8fb3ca"/>
<rect x="278.25" y="451.00" width="8.92" height="9.05" fill="#eea3a3"/>
<rect x="233.90" y="460.00" width="8.92" height="9.05" fill="#f3d0d0"/>
<rect x="242.77" y="460.00" width="8.92" height="9.05" fill="#d82a3a"/>
<rect x="251.64" y="460.00" width="8.92" height="9.05" fill="#f3d3d3"/>
<rect x="260.51" y="460.00" width="8.92" height="9.05" fill="#f8f3f3"/>
<rect x="269.38" y="460.00" width="8.92" height="9.05" fill="#6896b6"/>
<rect x="278.25" y="460.00" width="8.92" height="9.05" fill="#3c7fa3"/>
<rect x="233.90" y="469.00" width="8.92" height="9.05" fill="#d82a38"/>
<rect x="242.77" y="469.00" width="8.92" height="9.05" fill="#f5d0d0"/>
<rect x="251.64" y="469.00" width="8.92" height="9.05" fill="#90b4ca"/>
<rect x="260.51" y="469.00" width="8.92" height="9.05" fill="#1a6890"/>
<rect x="269.38" y="469.00" width="8.92" height="9.05" fill="#f3dcdc"/>
<rect x="278.25" y="469.00" width="8.92" height="9.05" fill="#dde8f0"/>
<rect x="233.90" y="478.00" width="8.92" height="9.05" fill="#e47a7b"/>
<rect x="242.77" y="478.00" width="8.92" height="9.05" fill="#e68888"/>
<rect x="251.64" y="478.00" width="8.92" height="9.05" fill="#e47a7b"/>
<rect x="260.51" y="478.00" width="8.92" height="9.05" fill="#b5cede"/>
<rect x="269.38" y="478.00" width="8.92" height="9.05" fill="#6a98b8"/>
<rect x="278.25" y="478.00" width="8.92" height="9.05" fill="#1a6890"/>
<path d="M233.90,406.00 V487.00 M242.77,406.00 V487.00 M251.64,406.00 V487.00 M260.51,406.00 V487.00 M269.38,406.00 V487.00 M278.25,406.00 V487.00 M287.12,406.00 V487.00 M233.90,406.00 H287.12 M233.90,415.00 H287.12 M233.90,424.00 H287.12 M233.90,433.00 H287.12 M233.90,442.00 H287.12 M233.90,451.00 H287.12 M233.90,460.00 H287.12 M233.90,469.00 H287.12 M233.90,478.00 H287.12 M233.90,487.00 H287.12 " stroke="#c8c8c8" stroke-width="0.4" fill="none"/>
<rect x="233.90" y="397.70" width="8.92" height="6.00" fill="#1d5f8a"/>
<rect x="242.77" y="397.70" width="8.92" height="6.00" fill="#1d5f8a"/>
<rect x="251.64" y="397.70" width="8.92" height="6.00" fill="#1d5f8a"/>
<rect x="260.51" y="397.70" width="8.92" height="6.00" fill="#d63a44"/>
<rect x="269.38" y="397.70" width="8.92" height="6.00" fill="#d63a44"/>
<rect x="278.25" y="397.70" width="8.92" height="6.00" fill="#d63a44"/>
<path d="M233.90,397.7 V403.7 M242.77,397.7 V403.7 M251.64,397.7 V403.7 M260.51,397.7 V403.7 M269.38,397.7 V403.7 M278.25,397.7 V403.7 M287.12,397.7 V403.7 M233.90,397.7 H287.12 M233.90,403.7 H287.12" stroke="#999" stroke-width="0.4" fill="none"/>
<path d="M238.34,397.2 V391.1 H251.64 V393.4 M247.21,397.2 V393.4 H256.07 V397.2 M264.94,397.2 V391.1 H278.25 V393.4 M273.81,397.2 V393.4 H282.69 V397.2 M244.99,391.1 V388.2 H271.60 V391.1" stroke="#333" stroke-width="0.6" fill="none"/>
<defs><linearGradient id="lg" x1="0" y1="0" x2="0" y2="1"><stop offset="0" stop-color="#d6303c"/><stop offset="0.25" stop-color="#e88a8c"/><stop offset="0.5" stop-color="#ffffff"/><stop offset="0.75" stop-color="#7aa6c4"/><stop offset="1" stop-color="#1a6890"/></linearGradient></defs>
<rect x="227.50" y="405.50" width="4.60" height="81.80" fill="url(#lg)"/>
<text x="225.30" y="411.00" font-size="7.2" text-anchor="end" stroke="#1c1c1c" stroke-width="0.230">1.5</text>
<text x="225.30" y="423.30" font-size="7.2" text-anchor="end" stroke="#1c1c1c" stroke-width="0.230">1</text>
<text x="225.30" y="435.60" font-size="7.2" text-anchor="end" stroke="#1c1c1c" stroke-width="0.230">0.5</text>
<text x="225.30" y="447.90" font-size="7.2" text-anchor="end" stroke="#1c1c1c" stroke-width="0.230">0</text>
<text x="225.30" y="460.20" font-size="7.2" text-anchor="end" stroke="#1c1c1c" stroke-width="0.230">−0.5</text>
<text x="225.30" y="472.50" font-size="7.2" text-anchor="end" stroke="#1c1c1c" stroke-width="0.230">−1</text>
<text x="225.30" y="484.80" font-size="7.2" text-anchor="end" stroke="#1c1c1c" stroke-width="0.230">−1.5</text>
<rect x="292.30" y="391.10" width="3.90" height="4.20" fill="#1d5f8a"/>
<text x="298.20" y="395.94" font-size="7.6" stroke="#1c1c1c" stroke-width="0.243">NC</text>
<rect x="292.30" y="398.10" width="3.90" height="4.20" fill="#d63a44"/>
<text x="298.20" y="402.94" font-size="7.6" stroke="#1c1c1c" stroke-width="0.243">si<tspan font-style="italic">PRP19</tspan>_1</text>
<text x="290.80" y="413.30" font-size="7.7" fill="#e0242e" stroke="#e0242e" stroke-width="0.200" font-style="italic">PRP19</text>
<text x="321.70" y="414.30" font-size="7.6" fill="#e0242e" stroke="#e0242e" stroke-width="0.198">***</text>
<text x="290.80" y="422.30" font-size="7.7" stroke="#1c1c1c" stroke-width="0.246" font-style="italic">METTL3</text>
<text x="323.40" y="421.80" font-size="6.6" stroke="#1c1c1c" stroke-width="0.211">ns</text>
<text x="290.80" y="431.30" font-size="7.7" stroke="#1c1c1c" stroke-width="0.246" font-style="italic">METTL14</text>
<text x="327.50" y="430.80" font-size="6.6" stroke="#1c1c1c" stroke-width="0.211">ns</text>
<text x="290.80" y="440.30" font-size="7.7" stroke="#1c1c1c" stroke-width="0.246" font-style="italic">WTAP</text>
<text x="316.00" y="439.80" font-size="6.6" stroke="#1c1c1c" stroke-width="0.211">ns</text>
<text x="290.80" y="449.30" font-size="7.7" stroke="#1c1c1c" stroke-width="0.246" font-style="italic">ZC3H13</text>
<text x="322.90" y="448.80" font-size="6.6" stroke="#1c1c1c" stroke-width="0.211">ns</text>
<text x="290.80" y="458.30" font-size="7.7" stroke="#1c1c1c" stroke-width="0.246" font-style="italic">RBM15</text>
<text x="320.90" y="457.80" font-size="6.6" stroke="#1c1c1c" stroke-width="0.211">ns</text>
<text x="290.80" y="467.30" font-size="7.7" stroke="#1c1c1c" stroke-width="0.246" font-style="italic">VIRMA</text>
<text x="318.90" y="466.80" font-size="6.6" stroke="#1c1c1c" stroke-width="0.211">ns</text>
<text x="290.80" y="476.30" font-size="7.7" stroke="#1c1c1c" stroke-width="0.246" font-style="italic">FTO</text>
<text x="314.00" y="475.80" font-size="6.6" stroke="#1c1c1c" stroke-width="0.211">ns</text>
<text x="290.80" y="485.30" font-size="7.7" fill="#e0242e" stroke="#e0242e" stroke-width="0.200" font-style="italic">ALKBH5</text>
<text x="325.00" y="486.30" font-size="7.6" fill="#e0242e" stroke="#e0242e" stroke-width="0.198">*</text>
<text x="340.66" y="381.20" font-size="12.5" fill="#000" font-weight="bold">M</text>
<rect x="382.60" y="380.20" width="5.20" height="2.80" fill="#1b5482"/>
<text x="389.80" y="384.37" font-size="7.7" stroke="#1c1c1c" stroke-width="0.246">NC</text>
<rect x="382.60" y="387.80" width="5.20" height="2.80" fill="#aa1e27"/>
<text x="389.80" y="391.97" font-size="7.7" stroke="#1c1c1c" stroke-width="0.246">si<tspan font-style="italic">PRP19</tspan>_1</text>
<rect x="382.60" y="395.40" width="5.20" height="2.80" fill="#e2766d"/>
<text x="389.80" y="399.57" font-size="7.7" stroke="#1c1c1c" stroke-width="0.246">si<tspan font-style="italic">PRP19</tspan>_2</text>
<rect x="382.30" y="411.20" width="5.90" height="60.70" fill="#1b5482"/>
<rect x="388.20" y="439.73" width="5.30" height="32.17" fill="#aa1e27"/>
<rect x="393.50" y="436.69" width="6.00" height="35.21" fill="#e2766d"/>
<rect x="404.60" y="411.20" width="5.90" height="60.70" fill="#1b5482"/>
<rect x="410.50" y="442.76" width="5.30" height="29.14" fill="#aa1e27"/>
<rect x="415.80" y="433.66" width="5.70" height="38.24" fill="#e2766d"/>
<line x1="385.25" y1="411.20" x2="385.25" y2="408.27" stroke="#111" stroke-width="0.6"/>
<line x1="384.05" y1="408.27" x2="386.45" y2="408.27" stroke="#111" stroke-width="0.6"/>
<circle cx="383.95" cy="408.77" r="1.50" fill="#fff" stroke="#151515" stroke-width="0.75"/>
<circle cx="386.55" cy="411.20" r="1.50" fill="#fff" stroke="#151515" stroke-width="0.75"/>
<circle cx="385.25" cy="413.02" r="1.50" fill="#fff" stroke="#151515" stroke-width="0.75"/>
<circle cx="384.65" cy="413.63" r="1.50" fill="#fff" stroke="#151515" stroke-width="0.75"/>
<line x1="390.85" y1="439.73" x2="390.85" y2="436.19" stroke="#111" stroke-width="0.6"/>
<line x1="389.65" y1="436.19" x2="392.05" y2="436.19" stroke="#111" stroke-width="0.6"/>
<circle cx="389.55" cy="436.69" r="1.50" fill="#fff" stroke="#151515" stroke-width="0.75"/>
<circle cx="392.15" cy="437.91" r="1.50" fill="#fff" stroke="#151515" stroke-width="0.75"/>
<circle cx="390.85" cy="439.12" r="1.50" fill="#fff" stroke="#151515" stroke-width="0.75"/>
<circle cx="390.25" cy="440.94" r="1.50" fill="#fff" stroke="#151515" stroke-width="0.75"/>
<line x1="396.50" y1="436.69" x2="396.50" y2="431.94" stroke="#111" stroke-width="0.6"/>
<line x1="395.30" y1="431.94" x2="397.70" y2="431.94" stroke="#111" stroke-width="0.6"/>
<circle cx="395.20" cy="432.44" r="1.50" fill="#fff" stroke="#151515" stroke-width="0.75"/>
<circle cx="397.80" cy="436.09" r="1.50" fill="#fff" stroke="#151515" stroke-width="0.75"/>
<circle cx="396.50" cy="436.69" r="1.50" fill="#fff" stroke="#151515" stroke-width="0.75"/>
<circle cx="395.90" cy="437.30" r="1.50" fill="#fff" stroke="#151515" stroke-width="0.75"/>
<line x1="407.55" y1="411.20" x2="407.55" y2="408.27" stroke="#111" stroke-width="0.6"/>
<line x1="406.35" y1="408.27" x2="408.75" y2="408.27" stroke="#111" stroke-width="0.6"/>
<circle cx="406.25" cy="408.77" r="1.50" fill="#fff" stroke="#151515" stroke-width="0.75"/>
<circle cx="408.85" cy="410.59" r="1.50" fill="#fff" stroke="#151515" stroke-width="0.75"/>
<circle cx="407.55" cy="411.81" r="1.50" fill="#fff" stroke="#151515" stroke-width="0.75"/>
<circle cx="406.95" cy="412.41" r="1.50" fill="#fff" stroke="#151515" stroke-width="0.75"/>
<line x1="413.15" y1="442.76" x2="413.15" y2="439.84" stroke="#111" stroke-width="0.6"/>
<line x1="411.95" y1="439.84" x2="414.35" y2="439.84" stroke="#111" stroke-width="0.6"/>
<circle cx="411.85" cy="440.34" r="1.50" fill="#fff" stroke="#151515" stroke-width="0.75"/>
<circle cx="414.45" cy="442.16" r="1.50" fill="#fff" stroke="#151515" stroke-width="0.75"/>
<circle cx="413.15" cy="443.98" r="1.50" fill="#fff" stroke="#151515" stroke-width="0.75"/>
<circle cx="412.55" cy="444.58" r="1.50" fill="#fff" stroke="#151515" stroke-width="0.75"/>
<line x1="418.65" y1="433.66" x2="418.65" y2="430.73" stroke="#111" stroke-width="0.6"/>
<line x1="417.45" y1="430.73" x2="419.85" y2="430.73" stroke="#111" stroke-width="0.6"/>
<circle cx="417.35" cy="431.23" r="1.50" fill="#fff" stroke="#151515" stroke-width="0.75"/>
<circle cx="419.95" cy="433.05" r="1.50" fill="#fff" stroke="#151515" stroke-width="0.75"/>
<circle cx="418.65" cy="434.27" r="1.50" fill="#fff" stroke="#151515" stroke-width="0.75"/>
<circle cx="418.05" cy="436.09" r="1.50" fill="#fff" stroke="#151515" stroke-width="0.75"/>
<line x1="380.00" y1="472.40" x2="380.00" y2="408.37" stroke="#222" stroke-width="1.0"/>
<line x1="378.00" y1="471.90" x2="380.00" y2="471.90" stroke="#222" stroke-width="0.9"/>
<text x="377.00" y="474.60" font-size="7.738" text-anchor="end" stroke="#1c1c1c" stroke-width="0.248">0</text>
<line x1="378.00" y1="459.76" x2="380.00" y2="459.76" stroke="#222" stroke-width="0.9"/>
<text x="377.00" y="462.46" font-size="7.738" text-anchor="end" stroke="#1c1c1c" stroke-width="0.248">20</text>
<line x1="378.00" y1="447.62" x2="380.00" y2="447.62" stroke="#222" stroke-width="0.9"/>
<text x="377.00" y="450.32" font-size="7.738" text-anchor="end" stroke="#1c1c1c" stroke-width="0.248">40</text>
<line x1="378.00" y1="435.48" x2="380.00" y2="435.48" stroke="#222" stroke-width="0.9"/>
<text x="377.00" y="438.18" font-size="7.738" text-anchor="end" stroke="#1c1c1c" stroke-width="0.248">60</text>
<line x1="378.00" y1="423.34" x2="380.00" y2="423.34" stroke="#222" stroke-width="0.9"/>
<text x="377.00" y="426.04" font-size="7.738" text-anchor="end" stroke="#1c1c1c" stroke-width="0.248">80</text>
<line x1="378.00" y1="411.20" x2="380.00" y2="411.20" stroke="#222" stroke-width="0.9"/>
<text x="377.00" y="413.90" font-size="7.738" text-anchor="end" stroke="#1c1c1c" stroke-width="0.248">100</text>
<line x1="380.00" y1="471.90" x2="422.30" y2="471.90" stroke="#222" stroke-width="1.0"/>
<line x1="391.00" y1="471.90" x2="391.00" y2="474.10" stroke="#222" stroke-width="0.9"/>
<line x1="413.20" y1="471.90" x2="413.20" y2="474.10" stroke="#222" stroke-width="0.9"/>
<line x1="388.20" y1="430.70" x2="394.60" y2="430.70" stroke="#333" stroke-width="0.7" stroke-dasharray="0.8,0.6"/>
<line x1="410.00" y1="432.20" x2="417.00" y2="432.20" stroke="#333" stroke-width="0.7" stroke-dasharray="0.8,0.6"/>
<text x="396.40" y="429.60" font-size="6.669999999999999" text-anchor="middle" stroke="#1c1c1c" stroke-width="0.213">***</text>
<text x="419.30" y="428.40" font-size="6.669999999999999" text-anchor="middle" stroke="#1c1c1c" stroke-width="0.213">***</text>
<text x="361.90" y="431.70" font-size="7.7" text-anchor="middle" stroke="#1c1c1c" stroke-width="0.246" transform="rotate(-90 361.90 431.70)">Relative <tspan font-style="italic">ALKBH5</tspan> mRNA level</text>
<text x="394.30" y="479.50" font-size="7.696000000000001" text-anchor="end" stroke="#1c1c1c" stroke-width="0.246" transform="rotate(-45 394.30 479.50)">ECA-109</text>
<text x="416.00" y="479.50" font-size="7.696000000000001" text-anchor="end" stroke="#1c1c1c" stroke-width="0.246" transform="rotate(-45 416.00 479.50)">KYSE-150</text>
<text x="439.46" y="381.20" font-size="12.5" fill="#000" font-weight="bold">N</text>
<rect x="476.70" y="381.60" width="5.00" height="2.80" fill="#1b5482"/>
<text x="483.70" y="385.77" font-size="7.7" stroke="#1c1c1c" stroke-width="0.246">NC</text>
<rect x="476.70" y="389.00" width="5.00" height="2.80" fill="#aa1e27"/>
<text x="483.70" y="393.17" font-size="7.7" stroke="#1c1c1c" stroke-width="0.246">si<tspan font-style="italic">ALKBH5</tspan></text>
<rect x="478.90" y="446.97" width="5.80" height="25.33" fill="#1b5482"/>
<rect x="484.70" y="427.71" width="6.50" height="44.59" fill="#aa1e27"/>
<rect x="497.20" y="446.46" width="6.20" height="25.84" fill="#1b5482"/>
<rect x="503.40" y="412.51" width="6.20" height="59.79" fill="#aa1e27"/>
<line x1="481.80" y1="446.97" x2="481.80" y2="445.45" stroke="#111" stroke-width="0.6"/>
<line x1="480.60" y1="445.45" x2="483.00" y2="445.45" stroke="#111" stroke-width="0.6"/>
<circle cx="480.50" cy="445.95" r="1.50" fill="#fff" stroke="#151515" stroke-width="0.75"/>
<circle cx="483.10" cy="447.47" r="1.50" fill="#fff" stroke="#151515" stroke-width="0.75"/>
<circle cx="481.80" cy="448.23" r="1.50" fill="#fff" stroke="#151515" stroke-width="0.75"/>
<circle cx="481.20" cy="448.99" r="1.50" fill="#fff" stroke="#151515" stroke-width="0.75"/>
<line x1="487.95" y1="427.71" x2="487.95" y2="425.19" stroke="#111" stroke-width="0.6"/>
<line x1="486.75" y1="425.19" x2="489.15" y2="425.19" stroke="#111" stroke-width="0.6"/>
<circle cx="486.65" cy="425.69" r="1.50" fill="#fff" stroke="#151515" stroke-width="0.75"/>
<circle cx="489.25" cy="426.70" r="1.50" fill="#fff" stroke="#151515" stroke-width="0.75"/>
<circle cx="487.95" cy="427.71" r="1.50" fill="#fff" stroke="#151515" stroke-width="0.75"/>
<circle cx="487.35" cy="428.73" r="1.50" fill="#fff" stroke="#151515" stroke-width="0.75"/>
<line x1="500.30" y1="446.46" x2="500.30" y2="443.93" stroke="#111" stroke-width="0.6"/>
<line x1="499.10" y1="443.93" x2="501.50" y2="443.93" stroke="#111" stroke-width="0.6"/>
<circle cx="499.00" cy="444.43" r="1.50" fill="#fff" stroke="#151515" stroke-width="0.75"/>
<circle cx="501.60" cy="445.95" r="1.50" fill="#fff" stroke="#151515" stroke-width="0.75"/>
<circle cx="500.30" cy="447.47" r="1.50" fill="#fff" stroke="#151515" stroke-width="0.75"/>
<circle cx="499.70" cy="448.23" r="1.50" fill="#fff" stroke="#151515" stroke-width="0.75"/>
<line x1="506.50" y1="412.51" x2="506.50" y2="402.13" stroke="#111" stroke-width="0.6"/>
<line x1="505.30" y1="402.13" x2="507.70" y2="402.13" stroke="#111" stroke-width="0.6"/>
<circle cx="505.20" cy="402.63" r="1.50" fill="#fff" stroke="#151515" stroke-width="0.75"/>
<circle cx="507.80" cy="410.23" r="1.50" fill="#fff" stroke="#151515" stroke-width="0.75"/>
<circle cx="506.50" cy="412.01" r="1.50" fill="#fff" stroke="#151515" stroke-width="0.75"/>
<circle cx="505.90" cy="414.03" r="1.50" fill="#fff" stroke="#151515" stroke-width="0.75"/>
<line x1="475.30" y1="472.80" x2="475.30" y2="395.90" stroke="#222" stroke-width="1.0"/>
<line x1="473.30" y1="472.30" x2="475.30" y2="472.30" stroke="#222" stroke-width="0.9"/>
<text x="472.30" y="474.85" font-size="7.314000000000001" text-anchor="end" stroke="#1c1c1c" stroke-width="0.234">0.0</text>
<line x1="473.30" y1="457.10" x2="475.30" y2="457.10" stroke="#222" stroke-width="0.9"/>
<text x="472.30" y="459.65" font-size="7.314000000000001" text-anchor="end" stroke="#1c1c1c" stroke-width="0.234">0.6</text>
<line x1="473.30" y1="441.90" x2="475.30" y2="441.90" stroke="#222" stroke-width="0.9"/>
<text x="472.30" y="444.45" font-size="7.314000000000001" text-anchor="end" stroke="#1c1c1c" stroke-width="0.234">1.2</text>
<line x1="473.30" y1="426.70" x2="475.30" y2="426.70" stroke="#222" stroke-width="0.9"/>
<text x="472.30" y="429.25" font-size="7.314000000000001" text-anchor="end" stroke="#1c1c1c" stroke-width="0.234">1.8</text>
<line x1="473.30" y1="411.50" x2="475.30" y2="411.50" stroke="#222" stroke-width="0.9"/>
<text x="472.30" y="414.05" font-size="7.314000000000001" text-anchor="end" stroke="#1c1c1c" stroke-width="0.234">2.4</text>
<line x1="473.30" y1="396.30" x2="475.30" y2="396.30" stroke="#222" stroke-width="0.9"/>
<text x="472.30" y="398.85" font-size="7.314000000000001" text-anchor="end" stroke="#1c1c1c" stroke-width="0.234">3.0</text>
<line x1="475.30" y1="472.30" x2="512.80" y2="472.30" stroke="#222" stroke-width="1.0"/>
<line x1="485.00" y1="472.30" x2="485.00" y2="474.50" stroke="#222" stroke-width="0.9"/>
<line x1="503.60" y1="472.30" x2="503.60" y2="474.50" stroke="#222" stroke-width="0.9"/>
<text x="487.50" y="421.90" font-size="6.669999999999999" text-anchor="middle" stroke="#1c1c1c" stroke-width="0.213">**</text>
<text x="506.30" y="402.70" font-size="6.669999999999999" text-anchor="middle" stroke="#1c1c1c" stroke-width="0.213">***</text>
<text x="458.00" y="434.00" font-size="7.55" text-anchor="middle" stroke="#1c1c1c" stroke-width="0.242" transform="rotate(-90 458.00 434.00)">Relative overall m<tspan font-size="4.6" dy="-2.6">6</tspan><tspan dy="2.6">A level</tspan></text>
<text x="486.70" y="479.50" font-size="7.696000000000001" text-anchor="end" stroke="#1c1c1c" stroke-width="0.246" transform="rotate(-45 486.70 479.50)">ECA-109</text>
<text x="507.50" y="479.50" font-size="7.696000000000001" text-anchor="end" stroke="#1c1c1c" stroke-width="0.246" transform="rotate(-45 507.50 479.50)">KYSE-150</text>
<text x="2.36" y="558.50" font-size="12.5" fill="#000" font-weight="bold">K</text>
<text x="96.30" y="572.00" font-size="7.4" text-anchor="middle" stroke="#1c1c1c" stroke-width="0.237">TCGA_ESCC</text>
<line x1="54.80" y1="642.50" x2="54.80" y2="589.60" stroke="#222" stroke-width="1.0"/>
<line x1="52.60" y1="642.00" x2="54.80" y2="642.00" stroke="#222" stroke-width="0.9"/>
<text x="51.80" y="644.60" font-size="7.3" text-anchor="end" stroke="#1c1c1c" stroke-width="0.234">0</text>
<line x1="52.60" y1="633.33" x2="54.80" y2="633.33" stroke="#222" stroke-width="0.9"/>
<text x="51.80" y="635.93" font-size="7.3" text-anchor="end" stroke="#1c1c1c" stroke-width="0.234">25</text>
<line x1="52.60" y1="624.67" x2="54.80" y2="624.67" stroke="#222" stroke-width="0.9"/>
<text x="51.80" y="627.27" font-size="7.3" text-anchor="end" stroke="#1c1c1c" stroke-width="0.234">50</text>
<line x1="52.60" y1="616.00" x2="54.80" y2="616.00" stroke="#222" stroke-width="0.9"/>
<text x="51.80" y="618.60" font-size="7.3" text-anchor="end" stroke="#1c1c1c" stroke-width="0.234">75</text>
<line x1="52.60" y1="607.33" x2="54.80" y2="607.33" stroke="#222" stroke-width="0.9"/>
<text x="51.80" y="609.93" font-size="7.3" text-anchor="end" stroke="#1c1c1c" stroke-width="0.234">100</text>
<line x1="52.60" y1="598.67" x2="54.80" y2="598.67" stroke="#222" stroke-width="0.9"/>
<text x="51.80" y="601.27" font-size="7.3" text-anchor="end" stroke="#1c1c1c" stroke-width="0.234">125</text>
<line x1="52.60" y1="590.00" x2="54.80" y2="590.00" stroke="#222" stroke-width="0.9"/>
<text x="51.80" y="592.60" font-size="7.3" text-anchor="end" stroke="#1c1c1c" stroke-width="0.234">150</text>
<line x1="54.80" y1="642.50" x2="135.00" y2="642.50" stroke="#222" stroke-width="1.0"/>
<line x1="70.00" y1="642.50" x2="70.00" y2="644.70" stroke="#222" stroke-width="0.9"/>
<line x1="97.70" y1="642.50" x2="97.70" y2="644.70" stroke="#222" stroke-width="0.9"/>
<line x1="126.20" y1="642.50" x2="126.20" y2="644.70" stroke="#222" stroke-width="0.9"/>
<line x1="70.00" y1="611.20" x2="70.00" y2="623.50" stroke="#7aa4c8" stroke-width="0.8"/>
<line x1="70.00" y1="633.20" x2="70.00" y2="635.30" stroke="#7aa4c8" stroke-width="0.8"/>
<line x1="66.20" y1="611.20" x2="73.80" y2="611.20" stroke="#7aa4c8" stroke-width="0.8"/>
<line x1="66.20" y1="635.30" x2="73.80" y2="635.30" stroke="#7aa4c8" stroke-width="0.8"/>
<rect x="62.30" y="623.50" width="14.30" height="9.70" fill="none" stroke="#7aa4c8" stroke-width="0.8"/>
<line x1="62.30" y1="631.20" x2="76.60" y2="631.20" stroke="#7aa4c8" stroke-width="0.9"/>
<line x1="97.85" y1="613.50" x2="97.85" y2="621.20" stroke="#b86a6a" stroke-width="0.8"/>
<line x1="97.85" y1="627.30" x2="97.85" y2="636.50" stroke="#b86a6a" stroke-width="0.8"/>
<line x1="94.20" y1="613.50" x2="101.50" y2="613.50" stroke="#b86a6a" stroke-width="0.8"/>
<line x1="94.20" y1="636.50" x2="101.50" y2="636.50" stroke="#b86a6a" stroke-width="0.8"/>
<rect x="90.80" y="621.20" width="13.80" height="6.10" fill="none" stroke="#b86a6a" stroke-width="0.8"/>
<line x1="90.80" y1="625.00" x2="104.60" y2="625.00" stroke="#b86a6a" stroke-width="0.9"/>
<line x1="126.55" y1="597.30" x2="126.55" y2="613.50" stroke="#e8a29c" stroke-width="0.8"/>
<line x1="126.55" y1="624.50" x2="126.55" y2="635.80" stroke="#e8a29c" stroke-width="0.8"/>
<line x1="123.10" y1="597.30" x2="130.00" y2="597.30" stroke="#e8a29c" stroke-width="0.8"/>
<line x1="123.10" y1="635.80" x2="130.00" y2="635.80" stroke="#e8a29c" stroke-width="0.8"/>
<rect x="119.20" y="613.50" width="13.90" height="11.00" fill="none" stroke="#e8a29c" stroke-width="0.8"/>
<line x1="119.20" y1="619.20" x2="133.10" y2="619.20" stroke="#e8a29c" stroke-width="0.9"/>
<path d="M69.5,606.5 V604.5 H97.7 V606.5" fill="none" stroke="#555" stroke-width="0.7"/>
<path d="M70.8,591.2 V589.2 H126.9 V591.2" fill="none" stroke="#555" stroke-width="0.7"/>
<text x="83.10" y="601.90" font-size="7.4" text-anchor="middle" stroke="#1c1c1c" stroke-width="0.237"><tspan font-style="italic">P</tspan> = 0.17</text>
<text x="97.70" y="586.80" font-size="7.4" text-anchor="middle" stroke="#1c1c1c" stroke-width="0.237"><tspan font-style="italic">P</tspan> = 0.003</text>
<text x="23.70" y="618.10" font-size="7.7" text-anchor="middle" stroke="#1c1c1c" stroke-width="0.246" transform="rotate(-90 23.70 618.10)"><tspan font-style="italic">ALKBH5</tspan> mRNA expression</text>
<text x="34.00" y="617.50" font-size="7.3" text-anchor="middle" stroke="#1c1c1c" stroke-width="0.234" transform="rotate(-90 34.00 617.50)">(transcript per million)</text>
<text x="73.00" y="647.70" font-size="7.696000000000001" text-anchor="end" stroke="#1c1c1c" stroke-width="0.246" transform="rotate(-45 73.00 647.70)">Normal</text>
<text x="99.00" y="647.70" font-size="7.696000000000001" text-anchor="end" stroke="#1c1c1c" stroke-width="0.246" transform="rotate(-45 99.00 647.70)">EACC</text>
<text x="128.80" y="647.70" font-size="7.696000000000001" text-anchor="end" stroke="#1c1c1c" stroke-width="0.246" transform="rotate(-45 128.80 647.70)">ESCC</text>
<text x="208.89" y="536.68" font-size="12.5" fill="#000" font-weight="bold">O</text>
<rect x="240.20" y="539.20" width="5.00" height="2.80" fill="#1b5482"/>
<text x="247.20" y="543.37" font-size="7.7" stroke="#1c1c1c" stroke-width="0.246">NC</text>
<rect x="240.20" y="547.00" width="5.00" height="2.80" fill="#aa1e27"/>
<text x="247.20" y="551.17" font-size="7.7" stroke="#1c1c1c" stroke-width="0.246">si<tspan font-style="italic">ALKBH5</tspan></text>
<rect x="243.10" y="624.64" width="6.10" height="8.36" fill="#1b5482"/>
<rect x="249.20" y="586.26" width="5.90" height="46.74" fill="#aa1e27"/>
<rect x="261.80" y="616.47" width="5.90" height="16.53" fill="#1b5482"/>
<rect x="267.70" y="567.83" width="6.10" height="65.17" fill="#aa1e27"/>
<line x1="246.15" y1="624.64" x2="246.15" y2="621.48" stroke="#111" stroke-width="0.6"/>
<line x1="244.95" y1="621.48" x2="247.35" y2="621.48" stroke="#111" stroke-width="0.6"/>
<circle cx="244.85" cy="621.98" r="1.50" fill="#fff" stroke="#151515" stroke-width="0.75"/>
<circle cx="247.45" cy="623.50" r="1.50" fill="#fff" stroke="#151515" stroke-width="0.75"/>
<circle cx="246.15" cy="625.02" r="1.50" fill="#fff" stroke="#151515" stroke-width="0.75"/>
<circle cx="245.55" cy="626.35" r="1.50" fill="#fff" stroke="#151515" stroke-width="0.75"/>
<line x1="252.15" y1="586.26" x2="252.15" y2="580.25" stroke="#111" stroke-width="0.6"/>
<line x1="250.95" y1="580.25" x2="253.35" y2="580.25" stroke="#111" stroke-width="0.6"/>
<circle cx="250.85" cy="580.75" r="1.50" fill="#fff" stroke="#151515" stroke-width="0.75"/>
<circle cx="253.45" cy="583.60" r="1.50" fill="#fff" stroke="#151515" stroke-width="0.75"/>
<circle cx="252.15" cy="587.40" r="1.50" fill="#fff" stroke="#151515" stroke-width="0.75"/>
<circle cx="251.55" cy="591.20" r="1.50" fill="#fff" stroke="#151515" stroke-width="0.75"/>
<line x1="264.75" y1="616.47" x2="264.75" y2="613.88" stroke="#111" stroke-width="0.6"/>
<line x1="263.55" y1="613.88" x2="265.95" y2="613.88" stroke="#111" stroke-width="0.6"/>
<circle cx="263.45" cy="614.38" r="1.50" fill="#fff" stroke="#151515" stroke-width="0.75"/>
<circle cx="266.05" cy="615.52" r="1.50" fill="#fff" stroke="#151515" stroke-width="0.75"/>
<circle cx="264.75" cy="616.85" r="1.50" fill="#fff" stroke="#151515" stroke-width="0.75"/>
<circle cx="264.15" cy="617.80" r="1.50" fill="#fff" stroke="#151515" stroke-width="0.75"/>
<line x1="270.75" y1="567.83" x2="270.75" y2="559.35" stroke="#111" stroke-width="0.6"/>
<line x1="269.55" y1="559.35" x2="271.95" y2="559.35" stroke="#111" stroke-width="0.6"/>
<circle cx="269.45" cy="559.85" r="1.50" fill="#fff" stroke="#151515" stroke-width="0.75"/>
<circle cx="272.05" cy="562.70" r="1.50" fill="#fff" stroke="#151515" stroke-width="0.75"/>
<circle cx="270.75" cy="568.40" r="1.50" fill="#fff" stroke="#151515" stroke-width="0.75"/>
<circle cx="270.15" cy="570.30" r="1.50" fill="#fff" stroke="#151515" stroke-width="0.75"/>
<line x1="240.00" y1="633.50" x2="240.00" y2="556.60" stroke="#222" stroke-width="1.0"/>
<line x1="238.00" y1="633.00" x2="240.00" y2="633.00" stroke="#222" stroke-width="0.9"/>
<text x="237.00" y="635.70" font-size="7.738" text-anchor="end" stroke="#1c1c1c" stroke-width="0.248">0</text>
<line x1="238.00" y1="614.00" x2="240.00" y2="614.00" stroke="#222" stroke-width="0.9"/>
<text x="237.00" y="616.70" font-size="7.738" text-anchor="end" stroke="#1c1c1c" stroke-width="0.248">10</text>
<line x1="238.00" y1="595.00" x2="240.00" y2="595.00" stroke="#222" stroke-width="0.9"/>
<text x="237.00" y="597.70" font-size="7.738" text-anchor="end" stroke="#1c1c1c" stroke-width="0.248">20</text>
<line x1="238.00" y1="576.00" x2="240.00" y2="576.00" stroke="#222" stroke-width="0.9"/>
<text x="237.00" y="578.70" font-size="7.738" text-anchor="end" stroke="#1c1c1c" stroke-width="0.248">30</text>
<line x1="238.00" y1="557.00" x2="240.00" y2="557.00" stroke="#222" stroke-width="0.9"/>
<text x="237.00" y="559.70" font-size="7.738" text-anchor="end" stroke="#1c1c1c" stroke-width="0.248">40</text>
<line x1="240.00" y1="633.00" x2="275.40" y2="633.00" stroke="#222" stroke-width="1.0"/>
<line x1="249.20" y1="633.00" x2="249.20" y2="635.20" stroke="#222" stroke-width="0.9"/>
<line x1="267.70" y1="633.00" x2="267.70" y2="635.20" stroke="#222" stroke-width="0.9"/>
<text x="252.00" y="579.40" font-size="6.669999999999999" text-anchor="middle" stroke="#1c1c1c" stroke-width="0.213">***</text>
<text x="271.10" y="560.20" font-size="6.669999999999999" text-anchor="middle" stroke="#1c1c1c" stroke-width="0.213">***</text>
<text x="212.00" y="596.30" font-size="7.5" text-anchor="middle" stroke="#1c1c1c" stroke-width="0.240" transform="rotate(-90 212.00 596.30)">Relative m<tspan font-size="4.6" dy="-2.6">6</tspan><tspan dy="2.6">A enrichment of</tspan></text>
<text x="221.50" y="602.30" font-size="7.5" text-anchor="middle" stroke="#1c1c1c" stroke-width="0.240" transform="rotate(-90 221.50 602.30)"><tspan font-style="italic">SREBF1</tspan></text>
<text x="251.50" y="641.50" font-size="7.696000000000001" text-anchor="end" stroke="#1c1c1c" stroke-width="0.246" transform="rotate(-45 251.50 641.50)">ECA-109</text>
<text x="270.50" y="641.50" font-size="7.696000000000001" text-anchor="end" stroke="#1c1c1c" stroke-width="0.246" transform="rotate(-45 270.50 641.50)">KYSE-150</text>
<text x="289.06" y="536.60" font-size="12.5" fill="#000" font-weight="bold">P</text>
<rect x="326.00" y="531.30" width="5.40" height="2.80" fill="#1b5482"/>
<text x="333.40" y="535.47" font-size="7.7" stroke="#1c1c1c" stroke-width="0.246">NC</text>
<rect x="326.00" y="538.90" width="5.40" height="2.80" fill="#aa1e27"/>
<text x="333.40" y="543.07" font-size="7.7" stroke="#1c1c1c" stroke-width="0.246">si<tspan font-style="italic">ALKBH5</tspan></text>
<rect x="326.00" y="546.50" width="5.40" height="2.80" fill="#e2766d"/>
<text x="333.40" y="550.67" font-size="7.7" stroke="#1c1c1c" stroke-width="0.246">si<tspan font-style="italic">ALKBH5</tspan> + DAA</text>
<rect x="326.90" y="571.99" width="6.00" height="61.61" fill="#1b5482"/>
<rect x="332.90" y="612.73" width="5.90" height="20.87" fill="#aa1e27"/>
<rect x="338.80" y="567.19" width="6.50" height="66.41" fill="#e2766d"/>
<rect x="352.20" y="572.56" width="6.20" height="61.04" fill="#1b5482"/>
<rect x="358.40" y="613.61" width="6.10" height="19.99" fill="#aa1e27"/>
<rect x="364.50" y="564.66" width="6.00" height="68.94" fill="#e2766d"/>
<line x1="329.90" y1="571.99" x2="329.90" y2="567.95" stroke="#111" stroke-width="0.6"/>
<line x1="328.70" y1="567.95" x2="331.10" y2="567.95" stroke="#111" stroke-width="0.6"/>
<circle cx="328.60" cy="568.45" r="1.50" fill="#fff" stroke="#151515" stroke-width="0.75"/>
<circle cx="331.20" cy="570.35" r="1.50" fill="#fff" stroke="#151515" stroke-width="0.75"/>
<circle cx="329.90" cy="572.25" r="1.50" fill="#fff" stroke="#151515" stroke-width="0.75"/>
<circle cx="329.30" cy="573.51" r="1.50" fill="#fff" stroke="#151515" stroke-width="0.75"/>
<line x1="335.85" y1="612.73" x2="335.85" y2="607.80" stroke="#111" stroke-width="0.6"/>
<line x1="334.65" y1="607.80" x2="337.05" y2="607.80" stroke="#111" stroke-width="0.6"/>
<circle cx="334.55" cy="608.30" r="1.50" fill="#fff" stroke="#151515" stroke-width="0.75"/>
<circle cx="337.15" cy="610.83" r="1.50" fill="#fff" stroke="#151515" stroke-width="0.75"/>
<circle cx="335.85" cy="612.73" r="1.50" fill="#fff" stroke="#151515" stroke-width="0.75"/>
<circle cx="335.25" cy="614.62" r="1.50" fill="#fff" stroke="#151515" stroke-width="0.75"/>
<line x1="342.05" y1="567.19" x2="342.05" y2="560.36" stroke="#111" stroke-width="0.6"/>
<line x1="340.85" y1="560.36" x2="343.25" y2="560.36" stroke="#111" stroke-width="0.6"/>
<circle cx="340.75" cy="560.86" r="1.50" fill="#fff" stroke="#151515" stroke-width="0.75"/>
<circle cx="343.35" cy="564.03" r="1.50" fill="#fff" stroke="#151515" stroke-width="0.75"/>
<circle cx="342.05" cy="567.82" r="1.50" fill="#fff" stroke="#151515" stroke-width="0.75"/>
<circle cx="341.45" cy="570.98" r="1.50" fill="#fff" stroke="#151515" stroke-width="0.75"/>
<line x1="355.30" y1="572.56" x2="355.30" y2="570.48" stroke="#111" stroke-width="0.6"/>
<line x1="354.10" y1="570.48" x2="356.50" y2="570.48" stroke="#111" stroke-width="0.6"/>
<circle cx="354.00" cy="570.98" r="1.50" fill="#fff" stroke="#151515" stroke-width="0.75"/>
<circle cx="356.60" cy="572.25" r="1.50" fill="#fff" stroke="#151515" stroke-width="0.75"/>
<circle cx="355.30" cy="572.88" r="1.50" fill="#fff" stroke="#151515" stroke-width="0.75"/>
<circle cx="354.70" cy="573.51" r="1.50" fill="#fff" stroke="#151515" stroke-width="0.75"/>
<line x1="361.45" y1="613.61" x2="361.45" y2="610.96" stroke="#111" stroke-width="0.6"/>
<line x1="360.25" y1="610.96" x2="362.65" y2="610.96" stroke="#111" stroke-width="0.6"/>
<circle cx="360.15" cy="611.46" r="1.50" fill="#fff" stroke="#151515" stroke-width="0.75"/>
<circle cx="362.75" cy="612.73" r="1.50" fill="#fff" stroke="#151515" stroke-width="0.75"/>
<circle cx="361.45" cy="613.36" r="1.50" fill="#fff" stroke="#151515" stroke-width="0.75"/>
<circle cx="360.85" cy="615.26" r="1.50" fill="#fff" stroke="#151515" stroke-width="0.75"/>
<line x1="367.50" y1="564.66" x2="367.50" y2="559.73" stroke="#111" stroke-width="0.6"/>
<line x1="366.30" y1="559.73" x2="368.70" y2="559.73" stroke="#111" stroke-width="0.6"/>
<circle cx="366.20" cy="560.23" r="1.50" fill="#fff" stroke="#151515" stroke-width="0.75"/>
<circle cx="368.80" cy="564.03" r="1.50" fill="#fff" stroke="#151515" stroke-width="0.75"/>
<circle cx="367.50" cy="565.29" r="1.50" fill="#fff" stroke="#151515" stroke-width="0.75"/>
<circle cx="366.90" cy="566.56" r="1.50" fill="#fff" stroke="#151515" stroke-width="0.75"/>
<line x1="324.70" y1="634.10" x2="324.70" y2="557.30" stroke="#222" stroke-width="1.0"/>
<line x1="322.70" y1="633.60" x2="324.70" y2="633.60" stroke="#222" stroke-width="0.9"/>
<text x="321.70" y="636.30" font-size="7.738" text-anchor="end" stroke="#1c1c1c" stroke-width="0.248">0</text>
<line x1="322.70" y1="620.95" x2="324.70" y2="620.95" stroke="#222" stroke-width="0.9"/>
<text x="321.70" y="623.65" font-size="7.738" text-anchor="end" stroke="#1c1c1c" stroke-width="0.248">20</text>
<line x1="322.70" y1="608.30" x2="324.70" y2="608.30" stroke="#222" stroke-width="0.9"/>
<text x="321.70" y="611.00" font-size="7.738" text-anchor="end" stroke="#1c1c1c" stroke-width="0.248">40</text>
<line x1="322.70" y1="595.65" x2="324.70" y2="595.65" stroke="#222" stroke-width="0.9"/>
<text x="321.70" y="598.35" font-size="7.738" text-anchor="end" stroke="#1c1c1c" stroke-width="0.248">60</text>
<line x1="322.70" y1="583.00" x2="324.70" y2="583.00" stroke="#222" stroke-width="0.9"/>
<text x="321.70" y="585.70" font-size="7.738" text-anchor="end" stroke="#1c1c1c" stroke-width="0.248">80</text>
<line x1="322.70" y1="570.35" x2="324.70" y2="570.35" stroke="#222" stroke-width="0.9"/>
<text x="321.70" y="573.05" font-size="7.738" text-anchor="end" stroke="#1c1c1c" stroke-width="0.248">100</text>
<line x1="322.70" y1="557.70" x2="324.70" y2="557.70" stroke="#222" stroke-width="0.9"/>
<text x="321.70" y="560.40" font-size="7.738" text-anchor="end" stroke="#1c1c1c" stroke-width="0.248">120</text>
<line x1="324.70" y1="633.60" x2="371.80" y2="633.60" stroke="#222" stroke-width="1.0"/>
<line x1="335.80" y1="633.60" x2="335.80" y2="635.80" stroke="#222" stroke-width="0.9"/>
<line x1="361.40" y1="633.60" x2="361.40" y2="635.80" stroke="#222" stroke-width="0.9"/>
<path d="M327.7,566.0 V563.8 H334.2 V610.4" fill="none" stroke="#8c8c8c" stroke-width="0.65"/>
<path d="M335.5,610.4 V555.6 H340.8 V559.7" fill="none" stroke="#8c8c8c" stroke-width="0.65"/>
<path d="M353.8,567.5 V565.4 H360.7 V612.0" fill="none" stroke="#8c8c8c" stroke-width="0.65"/>
<path d="M361.2,612.0 V555.1 H366.9 V558.5" fill="none" stroke="#8c8c8c" stroke-width="0.65"/>
<text x="331.30" y="562.90" font-size="6.21" text-anchor="middle" stroke="#1c1c1c" stroke-width="0.100">***</text>
<text x="338.80" y="555.90" font-size="6.21" text-anchor="middle" stroke="#1c1c1c" stroke-width="0.100">***</text>
<text x="357.10" y="563.70" font-size="6.21" text-anchor="middle" stroke="#1c1c1c" stroke-width="0.100">***</text>
<text x="365.00" y="555.20" font-size="6.21" text-anchor="middle" stroke="#1c1c1c" stroke-width="0.100">***</text>
<text x="303.50" y="592.40" font-size="7.6" text-anchor="middle" stroke="#1c1c1c" stroke-width="0.243" transform="rotate(-90 303.50 592.40)">Relative <tspan font-style="italic">SREBF1</tspan> mRNA level</text>
<text x="339.80" y="644.20" font-size="7.696000000000001" text-anchor="end" stroke="#1c1c1c" stroke-width="0.246" transform="rotate(-45 339.80 644.20)">ECA-109</text>
<text x="364.50" y="644.20" font-size="7.696000000000001" text-anchor="end" stroke="#1c1c1c" stroke-width="0.246" transform="rotate(-45 364.50 644.20)">KYSE-150</text>
<text x="402.80" y="536.20" font-size="12.5" fill="#000" font-weight="bold">Q</text>
<text x="437.40" y="551.80" font-size="7.7" stroke="#1c1c1c" stroke-width="0.246">TCGA_ESCC (<tspan font-style="italic">n</tspan> = 81)</text>
<text x="437.40" y="561.80" font-size="7.5" stroke="#1c1c1c" stroke-width="0.240"><tspan font-style="italic">r</tspan> = 0.4491</text>
<text x="437.40" y="571.00" font-size="7.5" stroke="#1c1c1c" stroke-width="0.240"><tspan font-style="italic">P</tspan> &lt; 0.001</text>
<line x1="435.90" y1="634.80" x2="435.90" y2="571.30" stroke="#222" stroke-width="1.0"/>
<line x1="433.70" y1="634.30" x2="435.90" y2="634.30" stroke="#222" stroke-width="0.9"/>
<text x="432.90" y="636.90" font-size="7.3" text-anchor="end" stroke="#1c1c1c" stroke-width="0.234">0</text>
<line x1="433.70" y1="621.78" x2="435.90" y2="621.78" stroke="#222" stroke-width="0.9"/>
<text x="432.90" y="624.38" font-size="7.3" text-anchor="end" stroke="#1c1c1c" stroke-width="0.234">20</text>
<line x1="433.70" y1="609.26" x2="435.90" y2="609.26" stroke="#222" stroke-width="0.9"/>
<text x="432.90" y="611.86" font-size="7.3" text-anchor="end" stroke="#1c1c1c" stroke-width="0.234">40</text>
<line x1="433.70" y1="596.74" x2="435.90" y2="596.74" stroke="#222" stroke-width="0.9"/>
<text x="432.90" y="599.34" font-size="7.3" text-anchor="end" stroke="#1c1c1c" stroke-width="0.234">60</text>
<line x1="433.70" y1="584.22" x2="435.90" y2="584.22" stroke="#222" stroke-width="0.9"/>
<text x="432.90" y="586.82" font-size="7.3" text-anchor="end" stroke="#1c1c1c" stroke-width="0.234">80</text>
<line x1="433.70" y1="571.70" x2="435.90" y2="571.70" stroke="#222" stroke-width="0.9"/>
<text x="432.90" y="574.30" font-size="7.3" text-anchor="end" stroke="#1c1c1c" stroke-width="0.234">100</text>
<line x1="435.90" y1="634.30" x2="501.00" y2="634.30" stroke="#222" stroke-width="1.0"/>
<line x1="435.90" y1="634.30" x2="435.90" y2="636.50" stroke="#222" stroke-width="0.9"/>
<text x="435.90" y="642.00" font-size="7.3" text-anchor="middle" stroke="#1c1c1c" stroke-width="0.234">0</text>
<line x1="451.55" y1="634.30" x2="451.55" y2="636.50" stroke="#222" stroke-width="0.9"/>
<text x="451.55" y="642.00" font-size="7.3" text-anchor="middle" stroke="#1c1c1c" stroke-width="0.234">20</text>
<line x1="467.20" y1="634.30" x2="467.20" y2="636.50" stroke="#222" stroke-width="0.9"/>
<text x="467.20" y="642.00" font-size="7.3" text-anchor="middle" stroke="#1c1c1c" stroke-width="0.234">40</text>
<line x1="482.85" y1="634.30" x2="482.85" y2="636.50" stroke="#222" stroke-width="0.9"/>
<text x="482.85" y="642.00" font-size="7.3" text-anchor="middle" stroke="#1c1c1c" stroke-width="0.234">60</text>
<line x1="498.50" y1="634.30" x2="498.50" y2="636.50" stroke="#222" stroke-width="0.9"/>
<text x="498.50" y="642.00" font-size="7.3" text-anchor="middle" stroke="#1c1c1c" stroke-width="0.234">80</text>
<circle cx="485.61" cy="580.54" r="1.30" fill="#173f4c"/>
<circle cx="471.19" cy="585.15" r="1.30" fill="#173f4c"/>
<circle cx="469.69" cy="589.31" r="1.30" fill="#173f4c"/>
<circle cx="451.92" cy="591.27" r="1.30" fill="#173f4c"/>
<circle cx="456.19" cy="591.50" r="1.30" fill="#173f4c"/>
<circle cx="450.77" cy="596.69" r="1.30" fill="#173f4c"/>
<circle cx="464.61" cy="596.11" r="1.30" fill="#173f4c"/>
<circle cx="457.35" cy="601.65" r="1.30" fill="#173f4c"/>
<circle cx="456.54" cy="602.81" r="1.30" fill="#173f4c"/>
<circle cx="463.11" cy="601.08" r="1.30" fill="#173f4c"/>
<circle cx="463.69" cy="602.46" r="1.30" fill="#173f4c"/>
<circle cx="467.38" cy="602.81" r="1.30" fill="#173f4c"/>
<circle cx="453.08" cy="605.69" r="1.30" fill="#173f4c"/>
<circle cx="460.23" cy="606.27" r="1.30" fill="#173f4c"/>
<circle cx="461.96" cy="608.23" r="1.30" fill="#173f4c"/>
<circle cx="465.77" cy="606.85" r="1.30" fill="#173f4c"/>
<circle cx="469.46" cy="608.23" r="1.30" fill="#173f4c"/>
<circle cx="452.15" cy="611.46" r="1.30" fill="#173f4c"/>
<circle cx="457.92" cy="611.46" r="1.30" fill="#173f4c"/>
<circle cx="463.11" cy="610.31" r="1.30" fill="#173f4c"/>
<circle cx="465.42" cy="612.61" r="1.30" fill="#173f4c"/>
<circle cx="456.77" cy="613.77" r="1.30" fill="#173f4c"/>
<circle cx="458.50" cy="614.92" r="1.30" fill="#173f4c"/>
<circle cx="455.38" cy="616.08" r="1.30" fill="#173f4c"/>
<circle cx="459.65" cy="616.08" r="1.30" fill="#173f4c"/>
<circle cx="463.69" cy="614.92" r="1.30" fill="#173f4c"/>
<circle cx="466.58" cy="616.08" r="1.30" fill="#173f4c"/>
<circle cx="468.88" cy="617.23" r="1.30" fill="#173f4c"/>
<circle cx="456.77" cy="617.81" r="1.30" fill="#173f4c"/>
<circle cx="448.69" cy="618.38" r="1.30" fill="#173f4c"/>
<circle cx="453.31" cy="618.96" r="1.30" fill="#173f4c"/>
<circle cx="450.42" cy="620.11" r="1.30" fill="#173f4c"/>
<circle cx="464.27" cy="618.96" r="1.30" fill="#173f4c"/>
<circle cx="467.15" cy="620.11" r="1.30" fill="#173f4c"/>
<circle cx="442.92" cy="620.92" r="1.30" fill="#173f4c"/>
<circle cx="447.54" cy="621.27" r="1.30" fill="#173f4c"/>
<circle cx="451.00" cy="621.84" r="1.30" fill="#173f4c"/>
<circle cx="454.46" cy="622.42" r="1.30" fill="#173f4c"/>
<circle cx="458.50" cy="623.58" r="1.30" fill="#173f4c"/>
<circle cx="456.19" cy="624.73" r="1.30" fill="#173f4c"/>
<circle cx="463.11" cy="624.15" r="1.30" fill="#173f4c"/>
<circle cx="468.88" cy="623.58" r="1.30" fill="#173f4c"/>
<circle cx="445.23" cy="623.23" r="1.30" fill="#173f4c"/>
<circle cx="449.85" cy="623.58" r="1.30" fill="#173f4c"/>
<circle cx="452.15" cy="625.31" r="1.30" fill="#173f4c"/>
<circle cx="454.46" cy="624.15" r="1.30" fill="#173f4c"/>
<circle cx="460.23" cy="624.73" r="1.30" fill="#173f4c"/>
<circle cx="463.69" cy="625.31" r="1.30" fill="#173f4c"/>
<circle cx="446.96" cy="627.38" r="1.30" fill="#173f4c"/>
<circle cx="451.00" cy="626.46" r="1.30" fill="#173f4c"/>
<circle cx="460.81" cy="627.04" r="1.30" fill="#173f4c"/>
<circle cx="461.96" cy="627.84" r="1.30" fill="#173f4c"/>
<circle cx="463.46" cy="628.77" r="1.30" fill="#173f4c"/>
<circle cx="448.69" cy="620.11" r="1.30" fill="#173f4c"/>
<circle cx="455.61" cy="615.50" r="1.30" fill="#173f4c"/>
<circle cx="457.35" cy="612.61" r="1.30" fill="#173f4c"/>
<circle cx="459.08" cy="608.58" r="1.30" fill="#173f4c"/>
<circle cx="460.81" cy="604.54" r="1.30" fill="#173f4c"/>
<circle cx="462.31" cy="606.61" r="1.30" fill="#173f4c"/>
<circle cx="466.23" cy="609.73" r="1.30" fill="#173f4c"/>
<circle cx="464.61" cy="612.04" r="1.30" fill="#173f4c"/>
<circle cx="453.31" cy="612.61" r="1.30" fill="#173f4c"/>
<circle cx="456.19" cy="619.54" r="1.30" fill="#173f4c"/>
<circle cx="459.08" cy="618.38" r="1.30" fill="#173f4c"/>
<circle cx="449.85" cy="617.23" r="1.30" fill="#173f4c"/>
<circle cx="451.58" cy="620.69" r="1.30" fill="#173f4c"/>
<circle cx="457.92" cy="621.84" r="1.30" fill="#173f4c"/>
<circle cx="466.58" cy="617.81" r="1.30" fill="#173f4c"/>
<circle cx="453.08" cy="624.73" r="1.30" fill="#173f4c"/>
<circle cx="456.54" cy="623.58" r="1.30" fill="#173f4c"/>
<line x1="442.30" y1="624.20" x2="485.80" y2="595.90" stroke="#111" stroke-width="0.9"/>
<text x="466.90" y="651.70" font-size="7.7" text-anchor="middle" stroke="#1c1c1c" stroke-width="0.246"><tspan font-style="italic">ALKBH5</tspan></text>
<text x="472.70" y="661.80" font-size="7.8" text-anchor="middle" stroke="#1c1c1c" stroke-width="0.250">mRNA expression (FPKM)</text>
<text x="410.30" y="598.90" font-size="7.6" text-anchor="middle" stroke="#1c1c1c" stroke-width="0.243" transform="rotate(-90 410.30 598.90)"><tspan font-style="italic">SREBF1</tspan> mRNA expression</text>
<text x="420.60" y="598.90" font-size="7.35" text-anchor="middle" stroke="#1c1c1c" stroke-width="0.235" transform="rotate(-90 420.60 598.90)">(FPKM)</text>
</svg>
</body></html>
